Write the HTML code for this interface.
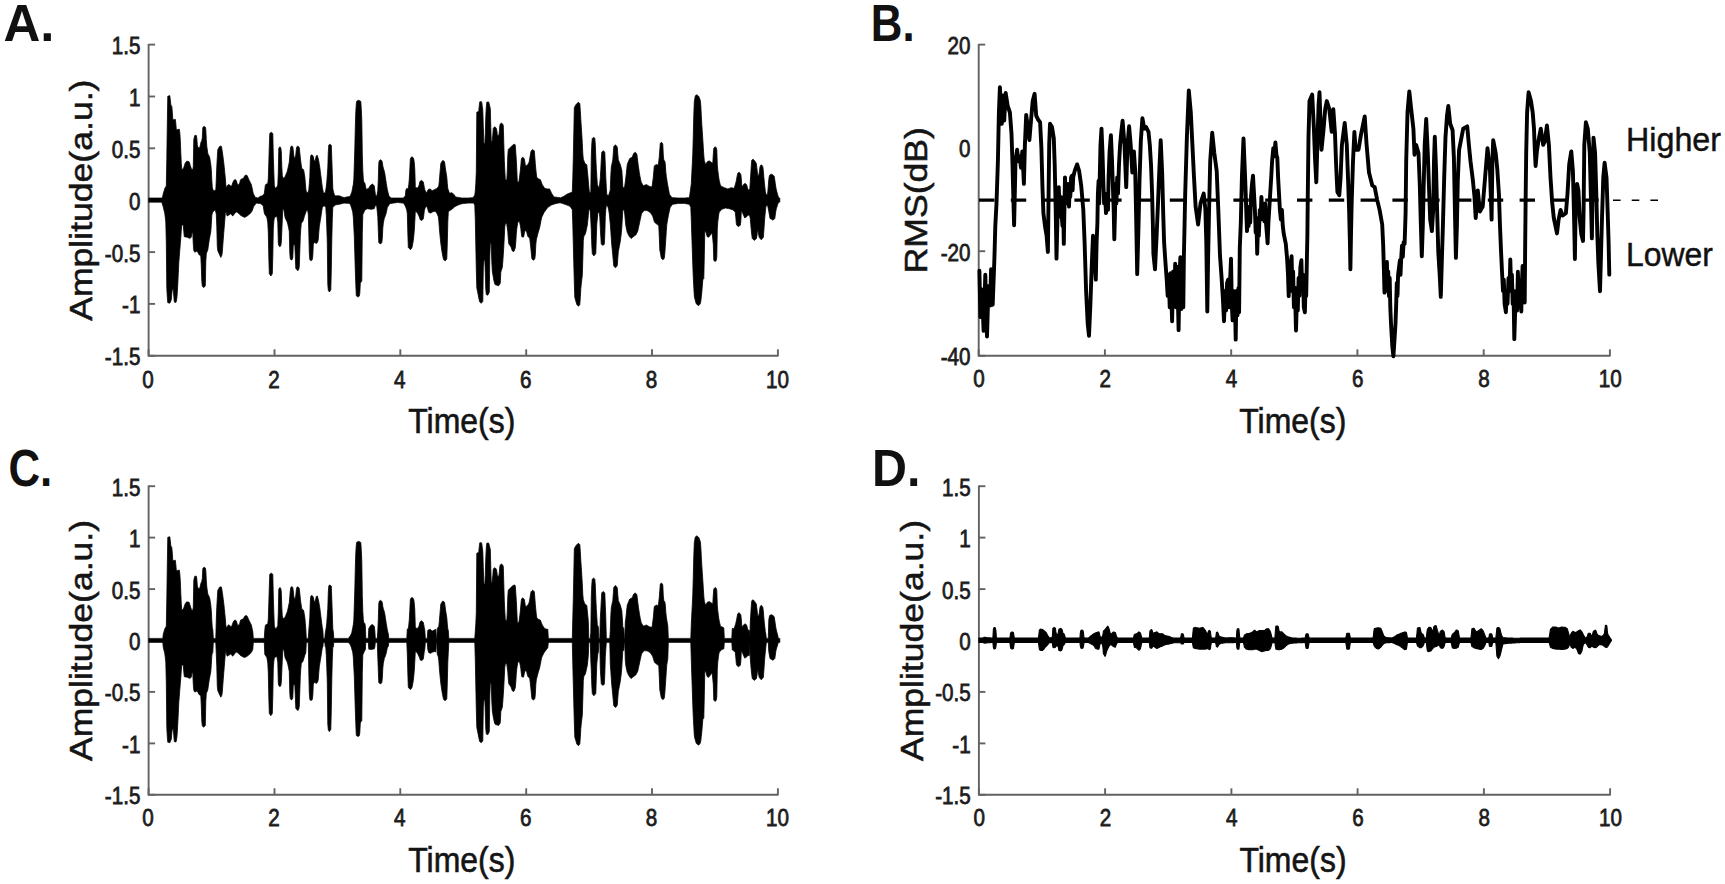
<!DOCTYPE html>
<html lang="en"><head><meta charset="utf-8"><title>Figure</title>
<style>html,body{margin:0;padding:0;background:#fff;}body{width:1725px;height:884px;overflow:hidden;}svg{display:block;}</style>
</head><body>
<svg width="1725" height="884" viewBox="0 0 1725 884">
<rect width="1725" height="884" fill="#ffffff"/>
<g stroke="#626262" stroke-width="1.9" fill="none" stroke-linecap="butt">
<path d="M148.6,44.0 V355.8 H778.5"/>
<path d="M148.6,355.8 v-6.5"/>
<path d="M274.5,355.8 v-6.5"/>
<path d="M400.3,355.8 v-6.5"/>
<path d="M526.2,355.8 v-6.5"/>
<path d="M652.0,355.8 v-6.5"/>
<path d="M777.9,355.8 v-6.5"/>
<path d="M148.6,44.6 h6.5"/>
<path d="M148.6,96.5 h6.5"/>
<path d="M148.6,148.3 h6.5"/>
<path d="M148.6,200.2 h6.5"/>
<path d="M148.6,252.1 h6.5"/>
<path d="M148.6,303.9 h6.5"/>
<path d="M148.6,355.8 h6.5"/>
</g>
<g font-family='"Liberation Sans", Arial, Helvetica, sans-serif' font-size="21.5" fill="#1c1c1c" stroke="#1c1c1c" stroke-width="0.7">
<text transform="translate(148.1,387.9) scale(0.96,1.1)" text-anchor="middle">0</text>
<text transform="translate(274.0,387.9) scale(0.96,1.1)" text-anchor="middle">2</text>
<text transform="translate(399.8,387.9) scale(0.96,1.1)" text-anchor="middle">4</text>
<text transform="translate(525.7,387.9) scale(0.96,1.1)" text-anchor="middle">6</text>
<text transform="translate(651.5,387.9) scale(0.96,1.1)" text-anchor="middle">8</text>
<text transform="translate(777.4,387.9) scale(0.96,1.1)" text-anchor="middle">10</text>
<text transform="translate(140.4,54.0) scale(0.96,1.1)" text-anchor="end">1.5</text>
<text transform="translate(140.4,105.9) scale(0.96,1.1)" text-anchor="end">1</text>
<text transform="translate(140.4,157.7) scale(0.96,1.1)" text-anchor="end">0.5</text>
<text transform="translate(140.4,209.6) scale(0.96,1.1)" text-anchor="end">0</text>
<text transform="translate(140.4,261.5) scale(0.96,1.1)" text-anchor="end">-0.5</text>
<text transform="translate(140.4,313.3) scale(0.96,1.1)" text-anchor="end">-1</text>
<text transform="translate(140.4,365.2) scale(0.96,1.1)" text-anchor="end">-1.5</text>
</g>
<text transform="translate(461.8,432.7) scale(1,1.12)" font-family='"Liberation Sans", Arial, Helvetica, sans-serif' font-size="32" fill="#141414" stroke="#141414" stroke-width="0.55" text-anchor="middle">Time(s)</text>
<text transform="translate(92.3,200.2) rotate(-90) scale(1.112,0.97)" font-family='"Liberation Sans", Arial, Helvetica, sans-serif' font-size="32" fill="#141414" stroke="#141414" stroke-width="0.55" text-anchor="middle">Amplitude(a.u.)</text>
<text transform="translate(3.5,40.6) scale(1.0,1)" font-family='"Liberation Sans", Arial, Helvetica, sans-serif' font-weight="bold" font-size="51" fill="#111">A.</text>
<g stroke="#626262" stroke-width="1.9" fill="none" stroke-linecap="butt">
<path d="M978.7,44.0 V355.8 H1610.5"/>
<path d="M978.7,355.8 v-6.5"/>
<path d="M1104.9,355.8 v-6.5"/>
<path d="M1231.2,355.8 v-6.5"/>
<path d="M1357.4,355.8 v-6.5"/>
<path d="M1483.7,355.8 v-6.5"/>
<path d="M1609.9,355.8 v-6.5"/>
<path d="M978.7,44.6 h6.5"/>
<path d="M978.7,251.2 h6.5"/>
<path d="M978.7,355.8 h6.5"/>
</g>
<g font-family='"Liberation Sans", Arial, Helvetica, sans-serif' font-size="21.5" fill="#1c1c1c" stroke="#1c1c1c" stroke-width="0.7">
<text transform="translate(979.0,386.7) scale(0.96,1.1)" text-anchor="middle">0</text>
<text transform="translate(1105.2,386.7) scale(0.96,1.1)" text-anchor="middle">2</text>
<text transform="translate(1231.5,386.7) scale(0.96,1.1)" text-anchor="middle">4</text>
<text transform="translate(1357.7,386.7) scale(0.96,1.1)" text-anchor="middle">6</text>
<text transform="translate(1484.0,386.7) scale(0.96,1.1)" text-anchor="middle">8</text>
<text transform="translate(1610.2,386.7) scale(0.96,1.1)" text-anchor="middle">10</text>
<text transform="translate(970.5,54.0) scale(0.96,1.1)" text-anchor="end">20</text>
<text transform="translate(970.5,157.3) scale(0.96,1.1)" text-anchor="end">0</text>
<text transform="translate(970.5,260.6) scale(0.96,1.1)" text-anchor="end">-20</text>
<text transform="translate(970.5,365.2) scale(0.96,1.1)" text-anchor="end">-40</text>
</g>
<text transform="translate(1292.8,432.7) scale(1,1.12)" font-family='"Liberation Sans", Arial, Helvetica, sans-serif' font-size="32" fill="#141414" stroke="#141414" stroke-width="0.55" text-anchor="middle">Time(s)</text>
<text transform="translate(927.3,200.2) rotate(-90) scale(1.112,0.97)" font-family='"Liberation Sans", Arial, Helvetica, sans-serif' font-size="32" fill="#141414" stroke="#141414" stroke-width="0.55" text-anchor="middle">RMS(dB)</text>
<text transform="translate(870.8,40.6) scale(0.86,1)" font-family='"Liberation Sans", Arial, Helvetica, sans-serif' font-weight="bold" font-size="51" fill="#111">B.</text>
<g stroke="#626262" stroke-width="1.9" fill="none" stroke-linecap="butt">
<path d="M148.6,485.6 V794.8 H778.5"/>
<path d="M148.6,794.8 v-6.5"/>
<path d="M274.5,794.8 v-6.5"/>
<path d="M400.3,794.8 v-6.5"/>
<path d="M526.2,794.8 v-6.5"/>
<path d="M652.0,794.8 v-6.5"/>
<path d="M777.9,794.8 v-6.5"/>
<path d="M148.6,486.2 h6.5"/>
<path d="M148.6,537.6 h6.5"/>
<path d="M148.6,589.1 h6.5"/>
<path d="M148.6,640.5 h6.5"/>
<path d="M148.6,691.9 h6.5"/>
<path d="M148.6,743.4 h6.5"/>
<path d="M148.6,794.8 h6.5"/>
</g>
<g font-family='"Liberation Sans", Arial, Helvetica, sans-serif' font-size="21.5" fill="#1c1c1c" stroke="#1c1c1c" stroke-width="0.7">
<text transform="translate(148.1,825.8) scale(0.96,1.1)" text-anchor="middle">0</text>
<text transform="translate(274.0,825.8) scale(0.96,1.1)" text-anchor="middle">2</text>
<text transform="translate(399.8,825.8) scale(0.96,1.1)" text-anchor="middle">4</text>
<text transform="translate(525.7,825.8) scale(0.96,1.1)" text-anchor="middle">6</text>
<text transform="translate(651.5,825.8) scale(0.96,1.1)" text-anchor="middle">8</text>
<text transform="translate(777.4,825.8) scale(0.96,1.1)" text-anchor="middle">10</text>
<text transform="translate(140.4,495.6) scale(0.96,1.1)" text-anchor="end">1.5</text>
<text transform="translate(140.4,547.0) scale(0.96,1.1)" text-anchor="end">1</text>
<text transform="translate(140.4,598.5) scale(0.96,1.1)" text-anchor="end">0.5</text>
<text transform="translate(140.4,649.9) scale(0.96,1.1)" text-anchor="end">0</text>
<text transform="translate(140.4,701.3) scale(0.96,1.1)" text-anchor="end">-0.5</text>
<text transform="translate(140.4,752.8) scale(0.96,1.1)" text-anchor="end">-1</text>
<text transform="translate(140.4,804.2) scale(0.96,1.1)" text-anchor="end">-1.5</text>
</g>
<text transform="translate(461.8,871.7) scale(1,1.12)" font-family='"Liberation Sans", Arial, Helvetica, sans-serif' font-size="32" fill="#141414" stroke="#141414" stroke-width="0.55" text-anchor="middle">Time(s)</text>
<text transform="translate(92.3,640.5) rotate(-90) scale(1.112,0.97)" font-family='"Liberation Sans", Arial, Helvetica, sans-serif' font-size="32" fill="#141414" stroke="#141414" stroke-width="0.55" text-anchor="middle">Amplitude(a.u.)</text>
<text transform="translate(8.4,485.8) scale(0.86,1)" font-family='"Liberation Sans", Arial, Helvetica, sans-serif' font-weight="bold" font-size="51" fill="#111">C.</text>
<g stroke="#626262" stroke-width="1.9" fill="none" stroke-linecap="butt">
<path d="M978.9,485.6 V794.8 H1610.7"/>
<path d="M978.9,794.8 v-6.5"/>
<path d="M1105.1,794.8 v-6.5"/>
<path d="M1231.4,794.8 v-6.5"/>
<path d="M1357.6,794.8 v-6.5"/>
<path d="M1483.9,794.8 v-6.5"/>
<path d="M1610.1,794.8 v-6.5"/>
<path d="M978.9,486.2 h6.5"/>
<path d="M978.9,537.6 h6.5"/>
<path d="M978.9,589.1 h6.5"/>
<path d="M978.9,640.5 h6.5"/>
<path d="M978.9,691.9 h6.5"/>
<path d="M978.9,743.4 h6.5"/>
<path d="M978.9,794.8 h6.5"/>
</g>
<g font-family='"Liberation Sans", Arial, Helvetica, sans-serif' font-size="21.5" fill="#1c1c1c" stroke="#1c1c1c" stroke-width="0.7">
<text transform="translate(979.2,826.3) scale(0.96,1.1)" text-anchor="middle">0</text>
<text transform="translate(1105.4,826.3) scale(0.96,1.1)" text-anchor="middle">2</text>
<text transform="translate(1231.7,826.3) scale(0.96,1.1)" text-anchor="middle">4</text>
<text transform="translate(1357.9,826.3) scale(0.96,1.1)" text-anchor="middle">6</text>
<text transform="translate(1484.2,826.3) scale(0.96,1.1)" text-anchor="middle">8</text>
<text transform="translate(1610.4,826.3) scale(0.96,1.1)" text-anchor="middle">10</text>
<text transform="translate(970.7,495.6) scale(0.96,1.1)" text-anchor="end">1.5</text>
<text transform="translate(970.7,547.0) scale(0.96,1.1)" text-anchor="end">1</text>
<text transform="translate(970.7,598.5) scale(0.96,1.1)" text-anchor="end">0.5</text>
<text transform="translate(970.7,649.9) scale(0.96,1.1)" text-anchor="end">0</text>
<text transform="translate(970.7,701.3) scale(0.96,1.1)" text-anchor="end">-0.5</text>
<text transform="translate(970.7,752.8) scale(0.96,1.1)" text-anchor="end">-1</text>
<text transform="translate(970.7,804.2) scale(0.96,1.1)" text-anchor="end">-1.5</text>
</g>
<text transform="translate(1293.0,871.7) scale(1,1.12)" font-family='"Liberation Sans", Arial, Helvetica, sans-serif' font-size="32" fill="#141414" stroke="#141414" stroke-width="0.55" text-anchor="middle">Time(s)</text>
<text transform="translate(922.7,640.5) rotate(-90) scale(1.112,0.97)" font-family='"Liberation Sans", Arial, Helvetica, sans-serif' font-size="32" fill="#141414" stroke="#141414" stroke-width="0.55" text-anchor="middle">Amplitude(a.u.)</text>
<text transform="translate(872.0,485.8) scale(0.95,1)" font-family='"Liberation Sans", Arial, Helvetica, sans-serif' font-weight="bold" font-size="51" fill="#111">D.</text>
<polygon points="148.8,198.0 149.3,198.0 149.8,198.0 150.3,198.0 150.8,198.0 151.3,198.0 151.8,198.0 152.3,198.0 152.8,198.0 153.3,198.0 153.8,198.0 154.3,198.0 154.8,198.0 155.3,198.0 155.8,198.0 156.3,198.0 156.8,198.0 157.3,198.0 157.8,198.0 158.3,198.0 158.8,198.0 159.3,198.0 159.8,198.0 160.3,198.0 160.8,198.0 161.3,198.0 161.8,198.0 162.3,198.0 162.8,195.7 163.3,193.6 163.8,191.9 164.3,190.2 164.8,188.5 165.3,187.6 165.8,186.7 166.3,185.9 166.8,159.4 167.3,124.1 167.8,96.2 168.3,96.0 168.8,95.9 169.3,95.8 169.8,95.6 170.3,99.7 170.8,104.5 171.3,105.6 171.8,106.4 172.3,112.1 172.8,119.8 173.3,119.7 173.8,119.6 174.3,119.5 174.8,119.4 175.3,119.3 175.8,123.4 176.3,129.4 176.8,129.7 177.3,129.6 177.8,129.5 178.3,129.4 178.8,129.3 179.3,129.2 179.8,132.8 180.3,140.3 180.8,152.6 181.3,163.6 181.8,169.5 182.3,169.2 182.8,168.9 183.3,168.5 183.8,167.5 184.3,165.9 184.8,164.2 185.3,163.0 185.8,162.3 186.3,161.6 186.8,161.2 187.3,161.3 187.8,161.3 188.3,161.4 188.8,161.5 189.3,162.1 189.8,163.8 190.3,165.6 190.8,167.1 191.3,168.6 191.8,169.6 192.3,169.6 192.8,169.6 193.3,166.6 193.8,139.5 194.3,137.3 194.8,135.4 195.3,135.4 195.8,135.4 196.3,135.4 196.8,138.0 197.3,144.8 197.8,147.3 198.3,147.5 198.8,147.6 199.3,147.7 199.8,147.5 200.3,145.2 200.8,143.0 201.3,141.6 201.8,140.6 202.3,137.8 202.8,127.9 203.3,126.9 203.8,126.5 204.3,126.5 204.8,126.8 205.3,127.1 205.8,129.5 206.3,139.5 206.8,146.4 207.3,149.9 207.8,153.4 208.3,154.4 208.8,155.4 209.3,156.4 209.8,158.0 210.3,161.4 210.8,164.7 211.3,169.9 211.8,179.9 212.3,187.5 212.8,189.0 213.3,190.5 213.8,190.7 214.3,190.5 214.8,190.4 215.3,190.3 215.8,190.2 216.3,179.6 216.8,166.7 217.3,157.4 217.8,149.6 218.3,148.7 218.8,147.8 219.3,146.8 219.8,146.2 220.3,146.2 220.8,146.2 221.3,146.2 221.8,148.3 222.3,151.8 222.8,155.2 223.3,159.2 223.8,163.2 224.3,167.9 224.8,172.9 225.3,178.1 225.8,184.6 226.3,187.9 226.8,186.9 227.3,186.0 227.8,185.1 228.3,184.8 228.8,184.4 229.3,184.7 229.8,185.3 230.3,185.8 230.8,186.1 231.3,186.3 231.8,185.5 232.3,184.1 232.8,182.8 233.3,181.5 233.8,180.6 234.3,180.1 234.8,179.7 235.3,179.5 235.8,180.1 236.3,180.7 236.8,182.2 237.3,183.9 237.8,185.1 238.3,184.7 238.8,184.4 239.3,184.1 239.8,182.7 240.3,180.5 240.8,179.4 241.3,179.2 241.8,179.0 242.3,178.8 242.8,178.5 243.3,178.3 243.8,177.4 244.3,176.6 244.8,175.8 245.3,175.2 245.8,175.2 246.3,175.2 246.8,175.2 247.3,175.9 247.8,177.1 248.3,178.3 248.8,179.4 249.3,180.5 249.8,181.5 250.3,182.5 250.8,183.5 251.3,184.5 251.8,186.7 252.3,189.0 252.8,191.4 253.3,193.5 253.8,194.5 254.3,195.6 254.8,196.6 255.3,197.3 255.8,197.4 256.3,197.5 256.8,197.7 257.3,197.8 257.8,197.9 258.3,197.9 258.8,197.5 259.3,197.0 259.8,196.6 260.3,196.3 260.8,196.2 261.3,196.1 261.8,195.9 262.3,195.8 262.8,195.4 263.3,194.7 263.8,194.1 264.3,193.4 264.8,189.8 265.3,185.4 265.8,184.4 266.3,184.1 266.8,183.9 267.3,183.7 267.8,183.5 268.3,178.3 268.8,162.8 269.3,146.1 269.8,133.4 270.3,133.0 270.8,132.6 271.3,132.3 271.8,132.7 272.3,133.1 272.8,133.5 273.3,156.5 273.8,171.7 274.3,185.4 274.8,187.3 275.3,187.7 275.8,188.0 276.3,188.1 276.8,187.1 277.3,186.1 277.8,185.1 278.3,172.3 278.8,148.3 279.3,147.6 279.8,146.8 280.3,147.1 280.8,147.9 281.3,151.5 281.8,166.5 282.3,175.5 282.8,177.3 283.3,178.2 283.8,177.8 284.3,177.5 284.8,177.2 285.3,176.2 285.8,174.9 286.3,173.7 286.8,172.4 287.3,171.2 287.8,169.1 288.3,166.8 288.8,164.4 289.3,162.0 289.8,156.0 290.3,150.0 290.8,146.9 291.3,146.3 291.8,145.8 292.3,146.4 292.8,147.0 293.3,150.2 293.8,155.5 294.3,157.8 294.8,157.8 295.3,157.8 295.8,154.7 296.3,149.4 296.8,146.9 297.3,146.4 297.8,146.0 298.3,146.4 298.8,146.9 299.3,147.8 299.8,152.8 300.3,157.8 300.8,161.8 301.3,165.4 301.8,168.4 302.3,168.8 302.8,169.1 303.3,169.4 303.8,170.8 304.3,173.8 304.8,176.8 305.3,182.6 305.8,188.6 306.3,192.1 306.8,192.2 307.3,192.3 307.8,192.4 308.3,192.6 308.8,189.8 309.3,183.6 309.8,177.3 310.3,160.7 310.8,155.6 311.3,155.1 311.8,154.8 312.3,155.2 312.8,155.6 313.3,156.5 313.8,159.1 314.3,160.9 314.8,160.9 315.3,160.9 315.8,157.8 316.3,155.8 316.8,155.6 317.3,155.4 317.8,157.1 318.3,158.9 318.8,161.3 319.3,164.3 319.8,167.4 320.3,171.4 320.8,175.4 321.3,179.4 321.8,183.4 322.3,187.2 322.8,189.7 323.3,192.3 323.8,193.2 324.3,193.0 324.8,192.8 325.3,192.7 325.8,189.8 326.3,186.6 326.8,181.9 327.3,174.9 327.8,168.0 328.3,151.7 328.8,145.0 329.3,144.5 329.8,144.2 330.3,144.6 330.8,144.9 331.3,145.3 331.8,158.8 332.3,173.6 332.8,188.6 333.3,191.1 333.8,192.8 334.3,194.4 334.8,195.8 335.3,195.8 335.8,195.8 336.3,195.8 336.8,195.8 337.3,195.8 337.8,195.8 338.3,195.8 338.8,195.8 339.3,195.8 339.8,196.0 340.3,196.2 340.8,196.4 341.3,196.6 341.8,196.8 342.3,197.0 342.8,197.2 343.3,197.3 343.8,197.5 344.3,197.6 344.8,197.4 345.3,197.3 345.8,197.2 346.3,197.1 346.8,197.0 347.3,196.9 347.8,196.8 348.3,196.7 348.8,196.6 349.3,196.5 349.8,196.4 350.3,195.7 350.8,194.5 351.3,193.3 351.8,192.2 352.3,189.7 352.8,187.0 353.3,184.4 353.8,180.0 354.3,165.0 354.8,149.2 355.3,127.7 355.8,111.7 356.3,103.9 356.8,101.1 357.3,100.8 357.8,100.6 358.3,100.4 358.8,100.3 359.3,100.5 359.8,100.8 360.3,101.1 360.8,101.4 361.3,109.4 361.8,120.6 362.3,154.8 362.8,170.7 363.3,179.1 363.8,181.9 364.3,182.5 364.8,183.1 365.3,185.2 365.8,187.7 366.3,189.5 366.8,189.2 367.3,189.0 367.8,188.7 368.3,188.5 368.8,188.0 369.3,187.2 369.8,186.4 370.3,185.6 370.8,185.0 371.3,184.7 371.8,184.3 372.3,184.0 372.8,184.3 373.3,184.8 373.8,185.3 374.3,186.1 374.8,190.1 375.3,194.1 375.8,195.9 376.3,196.1 376.8,196.1 377.3,193.3 377.8,190.6 378.3,179.3 378.8,162.9 379.3,160.6 379.8,160.2 380.3,159.8 380.8,159.9 381.3,160.3 381.8,160.7 382.3,162.3 382.8,165.9 383.3,168.1 383.8,169.7 384.3,171.2 384.8,173.5 385.3,176.9 385.8,180.2 386.3,183.4 386.8,186.4 387.3,189.4 387.8,191.5 388.3,193.6 388.8,195.7 389.3,196.2 389.8,196.7 390.3,197.2 390.8,197.7 391.3,198.0 391.8,198.0 392.3,198.0 392.8,198.0 393.3,198.0 393.8,198.0 394.3,198.0 394.8,198.0 395.3,198.0 395.8,198.0 396.3,198.0 396.8,198.0 397.3,198.0 397.8,198.0 398.3,198.0 398.8,198.0 399.3,198.0 399.8,198.0 400.3,198.0 400.8,198.0 401.3,198.0 401.8,198.0 402.3,198.0 402.8,198.0 403.3,198.0 403.8,197.6 404.3,197.0 404.8,196.4 405.3,195.8 405.8,190.9 406.3,188.8 406.8,188.7 407.3,188.6 407.8,188.4 408.3,188.3 408.8,184.6 409.3,179.0 409.8,170.0 410.3,159.3 410.8,157.9 411.3,157.3 411.8,156.7 412.3,156.9 412.8,157.5 413.3,158.0 413.8,159.2 414.3,162.9 414.8,169.6 415.3,186.7 415.8,187.4 416.3,187.7 416.8,188.0 417.3,188.1 417.8,187.5 418.3,186.8 418.8,186.1 419.3,184.5 419.8,182.0 420.3,181.1 420.8,180.8 421.3,180.4 421.8,180.5 422.3,181.0 422.8,181.5 423.3,182.0 423.8,184.5 424.3,187.5 424.8,189.8 425.3,190.8 425.8,191.8 426.3,192.8 426.8,192.6 427.3,191.4 427.8,190.3 428.3,189.5 428.8,189.3 429.3,189.2 429.8,189.0 430.3,189.0 430.8,189.5 431.3,190.0 431.8,190.5 432.3,190.7 432.8,190.4 433.3,190.2 433.8,189.9 434.3,189.7 434.8,189.4 435.3,189.2 435.8,188.9 436.3,188.7 436.8,188.4 437.3,188.0 437.8,187.3 438.3,186.7 438.8,186.0 439.3,181.3 439.8,174.9 440.3,169.2 440.8,163.6 441.3,162.6 441.8,161.8 442.3,160.9 442.8,160.4 443.3,160.7 443.8,161.0 444.3,161.4 444.8,163.6 445.3,167.6 445.8,171.1 446.3,174.1 446.8,177.2 447.3,183.6 447.8,188.7 448.3,190.0 448.8,191.3 449.3,192.6 449.8,193.2 450.3,193.1 450.8,192.9 451.3,192.8 451.8,192.7 452.3,192.9 452.8,193.4 453.3,193.9 453.8,194.4 454.3,195.1 454.8,195.7 455.3,196.4 455.8,197.0 456.3,197.1 456.8,197.2 457.3,197.2 457.8,197.3 458.3,197.4 458.8,197.5 459.3,197.6 459.8,197.6 460.3,197.7 460.8,197.8 461.3,197.9 461.8,198.0 462.3,198.0 462.8,198.0 463.3,198.0 463.8,198.0 464.3,198.0 464.8,198.0 465.3,198.0 465.8,198.0 466.3,198.0 466.8,198.0 467.3,198.0 467.8,198.0 468.3,198.0 468.8,197.9 469.3,197.9 469.8,197.9 470.3,197.8 470.8,197.8 471.3,197.8 471.8,197.7 472.3,197.7 472.8,197.6 473.3,197.4 473.8,196.5 474.3,195.7 474.8,194.9 475.3,190.7 475.8,183.7 476.3,172.0 476.8,112.3 477.3,112.0 477.8,111.7 478.3,111.4 478.8,110.7 479.3,105.4 479.8,101.8 480.3,101.7 480.8,101.6 481.3,101.5 481.8,102.8 482.3,106.7 482.8,110.6 483.3,126.5 483.8,142.4 484.3,143.4 484.8,144.4 485.3,133.8 485.8,116.6 486.3,107.3 486.8,102.2 487.3,102.1 487.8,102.0 488.3,101.9 488.8,102.2 489.3,104.3 489.8,106.4 490.3,108.5 490.8,127.5 491.3,143.2 491.8,141.7 492.3,140.2 492.8,135.0 493.3,128.2 493.8,127.6 494.3,127.2 494.8,126.8 495.3,127.1 495.8,127.7 496.3,128.3 496.8,130.5 497.3,134.5 497.8,135.4 498.3,135.4 498.8,135.4 499.3,132.1 499.8,125.6 500.3,123.9 500.8,123.5 501.3,123.1 501.8,123.3 502.3,123.8 502.8,124.3 503.3,125.9 503.8,143.3 504.3,160.3 504.8,170.3 505.3,179.6 505.8,179.8 506.3,179.9 506.8,180.1 507.3,171.1 507.8,155.8 508.3,149.4 508.8,148.9 509.3,148.4 509.8,147.9 510.3,147.4 510.8,146.9 511.3,146.4 511.8,145.9 512.3,145.4 512.8,144.9 513.3,144.6 513.8,144.5 514.3,144.4 514.8,144.2 515.3,145.4 515.8,152.6 516.3,159.9 516.8,169.9 517.3,181.4 517.8,182.1 518.3,182.1 518.8,182.1 519.3,179.1 519.8,175.0 520.3,170.8 520.8,165.5 521.3,159.7 521.8,157.9 522.3,157.6 522.8,157.3 523.3,157.6 523.8,158.3 524.3,158.9 524.8,161.7 525.3,165.1 525.8,165.8 526.3,165.6 526.8,165.4 527.3,165.2 527.8,164.4 528.3,163.6 528.8,162.7 529.3,161.3 529.8,158.2 530.3,155.2 530.8,152.2 531.3,150.7 531.8,150.2 532.3,149.8 532.8,149.6 533.3,150.0 533.8,150.5 534.3,150.9 534.8,156.8 535.3,163.7 535.8,169.0 536.3,174.0 536.8,177.3 537.3,177.8 537.8,178.3 538.3,178.8 538.8,179.1 539.3,179.2 539.8,179.4 540.3,179.6 540.8,180.8 541.3,182.1 541.8,183.5 542.3,184.7 542.8,185.4 543.3,186.2 543.8,186.9 544.3,187.7 544.8,188.3 545.3,188.4 545.8,188.6 546.3,188.7 546.8,188.8 547.3,188.9 547.8,188.9 548.3,188.9 548.8,188.9 549.3,188.9 549.8,189.2 550.3,190.4 550.8,191.5 551.3,192.7 551.8,193.6 552.3,194.4 552.8,195.1 553.3,195.9 553.8,196.6 554.3,197.0 554.8,197.1 555.3,197.1 555.8,197.2 556.3,197.2 556.8,197.3 557.3,197.3 557.8,197.4 558.3,197.4 558.8,197.5 559.3,197.5 559.8,197.6 560.3,197.9 560.8,197.6 561.3,197.4 561.8,197.2 562.3,197.0 562.8,196.8 563.3,196.6 563.8,196.3 564.3,196.0 564.8,195.7 565.3,195.3 565.8,195.0 566.3,194.7 566.8,194.3 567.3,194.0 567.8,193.8 568.3,193.6 568.8,193.4 569.3,193.2 569.8,193.0 570.3,192.8 570.8,192.6 571.3,192.4 571.8,192.3 572.3,192.1 572.8,177.7 573.3,157.8 573.8,133.7 574.3,107.9 574.8,106.6 575.3,105.8 575.8,104.9 576.3,104.2 576.8,103.7 577.3,103.2 577.8,102.8 578.3,102.3 578.8,102.6 579.3,103.1 579.8,103.6 580.3,110.5 580.8,119.3 581.3,127.1 581.8,134.6 582.3,143.2 582.8,153.8 583.3,159.2 583.8,160.5 584.3,161.8 584.8,163.2 585.3,163.7 585.8,164.0 586.3,164.3 586.8,165.1 587.3,170.2 587.8,175.2 588.3,180.8 588.8,186.8 589.3,192.0 589.8,192.2 590.3,192.4 590.8,192.6 591.3,156.2 591.8,144.0 592.3,138.4 592.8,137.9 593.3,137.5 593.8,137.4 594.3,137.9 594.8,138.3 595.3,144.3 595.8,157.3 596.3,168.2 596.8,176.2 597.3,184.2 597.8,185.5 598.3,186.5 598.8,187.5 599.3,187.3 599.8,182.8 600.3,178.3 600.8,169.7 601.3,159.8 601.8,152.1 602.3,151.6 602.8,151.2 603.3,150.7 603.8,151.2 604.3,151.7 604.8,152.5 605.3,165.0 605.8,177.5 606.3,187.5 606.8,194.6 607.3,194.9 607.8,195.3 608.3,195.6 608.8,194.8 609.3,193.2 609.8,191.5 610.3,189.8 610.8,175.5 611.3,167.0 611.8,164.7 612.3,162.3 612.8,160.0 613.3,153.2 613.8,146.5 614.3,146.0 614.8,145.4 615.3,144.8 615.8,145.2 616.3,145.7 616.8,146.2 617.3,147.5 617.8,154.1 618.3,159.9 618.8,161.0 619.3,162.2 619.8,163.4 620.3,164.5 620.8,166.4 621.3,168.3 621.8,170.3 622.3,177.3 622.8,186.5 623.3,187.4 623.8,187.8 624.3,188.2 624.8,185.6 625.3,181.9 625.8,178.1 626.3,173.5 626.8,168.5 627.3,164.3 627.8,163.1 628.3,161.8 628.8,160.6 629.3,159.3 629.8,158.4 630.3,158.1 630.8,157.9 631.3,157.6 631.8,157.4 632.3,156.8 632.8,155.6 633.3,154.3 633.8,153.3 634.3,152.9 634.8,152.6 635.3,152.2 635.8,152.8 636.3,153.4 636.8,154.0 637.3,157.6 637.8,161.8 638.3,165.8 638.8,169.1 639.3,172.5 639.8,175.5 640.3,178.0 640.8,180.5 641.3,182.4 641.8,183.2 642.3,184.0 642.8,184.9 643.3,185.7 643.8,185.6 644.3,185.4 644.8,185.2 645.3,185.0 645.8,184.8 646.3,184.6 646.8,184.8 647.3,185.1 647.8,185.4 648.3,185.7 648.8,186.0 649.3,186.3 649.8,186.5 650.3,186.6 650.8,186.7 651.3,186.9 651.8,187.0 652.3,185.1 652.8,181.1 653.3,177.2 653.8,171.5 654.3,165.9 654.8,165.5 655.3,165.2 655.8,164.8 656.3,164.5 656.8,164.6 657.3,164.8 657.8,165.0 658.3,165.1 658.8,160.9 659.3,156.6 659.8,149.8 660.3,143.3 660.8,142.8 661.3,142.3 661.8,142.6 662.3,143.1 662.8,144.4 663.3,155.1 663.8,160.0 664.3,160.6 664.8,161.2 665.3,164.2 665.8,171.6 666.3,176.5 666.8,179.5 667.3,182.6 667.8,185.6 668.3,188.2 668.8,190.9 669.3,193.5 669.8,194.9 670.3,195.5 670.8,196.1 671.3,196.8 671.8,197.4 672.3,197.6 672.8,197.7 673.3,197.7 673.8,197.7 674.3,197.8 674.8,197.8 675.3,197.8 675.8,197.8 676.3,197.9 676.8,197.9 677.3,197.9 677.8,198.0 678.3,198.0 678.8,198.0 679.3,198.0 679.8,198.0 680.3,198.0 680.8,198.0 681.3,198.0 681.8,198.0 682.3,198.0 682.8,198.0 683.3,198.0 683.8,198.0 684.3,198.0 684.8,198.0 685.3,197.9 685.8,197.9 686.3,197.8 686.8,197.8 687.3,197.8 687.8,197.7 688.3,197.7 688.8,197.7 689.3,197.6 689.8,194.7 690.3,191.2 690.8,187.7 691.3,183.6 691.8,173.6 692.3,163.6 692.8,153.6 693.3,134.9 693.8,114.9 694.3,101.4 694.8,98.7 695.3,95.9 695.8,95.3 696.3,95.1 696.8,94.8 697.3,95.1 697.8,95.5 698.3,95.9 698.8,96.5 699.3,97.8 699.8,99.1 700.3,100.5 700.8,105.6 701.3,115.5 701.8,124.4 702.3,131.9 702.8,139.5 703.3,147.5 703.8,155.5 704.3,160.5 704.8,162.1 705.3,163.8 705.8,164.2 706.3,163.4 706.8,162.6 707.3,161.7 707.8,161.4 708.3,161.2 708.8,161.1 709.3,160.9 709.8,161.3 710.3,161.6 710.8,161.9 711.3,162.3 711.8,162.7 712.3,163.0 712.8,162.9 713.3,154.3 713.8,148.3 714.3,147.7 714.8,147.1 715.3,146.7 715.8,147.3 716.3,147.9 716.8,150.0 717.3,164.8 717.8,170.4 718.3,174.2 718.8,178.1 719.3,180.9 719.8,182.9 720.3,185.0 720.8,185.9 721.3,186.2 721.8,186.4 722.3,186.7 722.8,186.9 723.3,187.2 723.8,187.4 724.3,187.7 724.8,187.9 725.3,188.0 725.8,188.2 726.3,188.4 726.8,188.5 727.3,188.7 727.8,188.9 728.3,188.8 728.8,188.6 729.3,188.4 729.8,188.2 730.3,188.0 730.8,187.8 731.3,187.7 731.8,187.8 732.3,187.9 732.8,188.0 733.3,188.1 733.8,188.2 734.3,187.8 734.8,186.2 735.3,184.5 735.8,182.9 736.3,180.7 736.8,177.9 737.3,175.2 737.8,173.2 738.3,172.8 738.8,172.4 739.3,172.3 739.8,173.0 740.3,173.6 740.8,174.3 741.3,178.7 741.8,185.9 742.3,186.4 742.8,185.6 743.3,184.9 743.8,184.3 744.3,183.9 744.8,183.6 745.3,183.5 745.8,183.9 746.3,184.3 746.8,185.3 747.3,187.3 747.8,189.3 748.3,189.7 748.8,189.8 749.3,190.0 749.8,188.9 750.3,181.4 750.8,173.6 751.3,165.2 751.8,160.1 752.3,159.7 752.8,159.3 753.3,159.3 753.8,159.9 754.3,160.5 754.8,161.1 755.3,161.8 755.8,162.6 756.3,163.4 756.8,167.4 757.3,171.6 757.8,175.8 758.3,175.3 758.8,174.8 759.3,172.4 759.8,168.1 760.3,165.7 760.8,165.3 761.3,164.8 761.8,165.1 762.3,165.9 762.8,166.7 763.3,170.5 763.8,176.7 764.3,182.1 764.8,186.6 765.3,191.2 765.8,193.6 766.3,194.2 766.8,194.9 767.3,195.5 767.8,192.1 768.3,185.9 768.8,179.6 769.3,176.3 769.8,175.1 770.3,174.5 770.8,174.4 771.3,174.3 771.8,174.3 772.3,174.6 772.8,175.0 773.3,175.4 773.8,175.7 774.3,176.7 774.8,180.2 775.3,183.6 775.8,187.1 776.3,189.6 776.8,191.5 777.3,193.4 777.8,195.2 778.3,196.6 778.8,197.6 779.3,198.1 779.8,198.1 779.8,202.1 779.3,202.1 778.8,202.1 778.3,203.0 777.8,204.1 777.3,205.7 776.8,207.2 776.3,208.8 775.8,211.2 775.3,214.8 774.8,218.4 774.3,218.9 773.8,219.4 773.3,219.9 772.8,220.1 772.3,219.8 771.8,219.4 771.3,219.1 770.8,218.9 770.3,218.8 769.8,217.4 769.3,214.3 768.8,211.4 768.3,208.9 767.8,206.4 767.3,205.1 766.8,205.5 766.3,205.9 765.8,207.1 765.3,212.1 764.8,217.2 764.3,223.9 763.8,231.5 763.3,237.4 762.8,238.0 762.3,238.6 761.8,239.2 761.3,239.8 760.8,239.3 760.3,238.7 759.8,238.2 759.3,237.6 758.8,235.6 758.3,232.1 757.8,228.7 757.3,232.7 756.8,236.7 756.3,238.8 755.8,239.2 755.3,239.6 754.8,240.0 754.3,240.4 753.8,240.0 753.3,239.5 752.8,239.1 752.3,238.6 751.8,235.0 751.3,230.6 750.8,224.7 750.3,218.7 749.8,215.9 749.3,215.6 748.8,215.2 748.3,215.1 747.8,215.6 747.3,216.1 746.8,216.6 746.3,217.0 745.8,217.3 745.3,217.7 744.8,218.0 744.3,217.0 743.8,215.8 743.3,214.7 742.8,213.5 742.3,212.2 741.8,211.0 741.3,211.7 740.8,221.7 740.3,225.2 739.8,225.6 739.3,226.1 738.8,226.5 738.3,226.6 737.8,226.1 737.3,225.7 736.8,225.2 736.3,223.5 735.8,217.3 735.3,212.3 734.8,211.8 734.3,211.3 733.8,210.8 733.3,210.3 732.8,209.9 732.3,209.7 731.8,209.6 731.3,209.4 730.8,209.2 730.3,209.1 729.8,208.9 729.3,208.7 728.8,208.6 728.3,208.6 727.8,208.5 727.3,208.4 726.8,208.3 726.3,208.2 725.8,208.1 725.3,208.1 724.8,208.3 724.3,208.5 723.8,208.6 723.3,208.8 722.8,209.0 722.3,209.1 721.8,209.3 721.3,209.8 720.8,210.4 720.3,211.0 719.8,211.5 719.3,212.1 718.8,213.9 718.3,217.8 717.8,221.6 717.3,229.3 716.8,257.0 716.3,260.3 715.8,260.9 715.3,261.5 714.8,261.2 714.3,260.8 713.8,260.4 713.3,244.5 712.8,239.3 712.3,234.8 711.8,232.7 711.3,233.6 710.8,234.4 710.3,235.1 709.8,235.8 709.3,236.5 708.8,237.1 708.3,237.2 707.8,237.0 707.3,236.8 706.8,235.4 706.3,233.0 705.8,232.1 705.3,231.7 704.8,231.3 704.3,255.7 703.8,278.6 703.3,279.1 702.8,279.9 702.3,286.1 701.8,292.2 701.3,296.8 700.8,301.3 700.3,303.6 699.8,304.3 699.3,305.0 698.8,305.6 698.3,305.4 697.8,305.1 697.3,304.7 696.8,304.3 696.3,303.9 695.8,302.3 695.3,300.5 694.8,298.6 694.3,296.0 693.8,286.9 693.3,277.9 692.8,265.1 692.3,250.2 691.8,235.2 691.3,220.1 690.8,207.3 690.3,206.3 689.8,205.2 689.3,204.3 688.8,204.2 688.3,204.2 687.8,204.1 687.3,204.0 686.8,203.9 686.3,203.8 685.8,203.7 685.3,203.6 684.8,203.5 684.3,203.5 683.8,203.5 683.3,203.5 682.8,203.5 682.3,203.5 681.8,203.5 681.3,203.5 680.8,203.5 680.3,203.5 679.8,203.5 679.3,203.5 678.8,203.5 678.3,203.5 677.8,203.5 677.3,203.6 676.8,203.7 676.3,203.8 675.8,203.9 675.3,203.9 674.8,204.0 674.3,204.1 673.8,204.2 673.3,204.2 672.8,204.3 672.3,204.7 671.8,205.3 671.3,206.0 670.8,206.6 670.3,207.2 669.8,208.9 669.3,211.2 668.8,213.5 668.3,215.8 667.8,218.7 667.3,221.6 666.8,224.5 666.3,231.5 665.8,239.0 665.3,246.4 664.8,253.6 664.3,258.1 663.8,258.8 663.3,259.5 662.8,259.8 662.3,259.3 661.8,258.8 661.3,258.0 660.8,255.3 660.3,252.6 659.8,249.9 659.3,237.0 658.8,226.0 658.3,225.5 657.8,225.0 657.3,224.5 656.8,224.1 656.3,223.7 655.8,223.3 655.3,223.0 654.8,222.6 654.3,221.6 653.8,219.9 653.3,218.2 652.8,216.6 652.3,215.6 651.8,214.8 651.3,214.1 650.8,213.3 650.3,212.6 649.8,212.2 649.3,211.9 648.8,211.6 648.3,211.3 647.8,211.0 647.3,210.7 646.8,210.6 646.3,210.6 645.8,210.6 645.3,210.6 644.8,210.6 644.3,210.6 643.8,210.8 643.3,211.4 642.8,212.0 642.3,212.7 641.8,213.3 641.3,214.6 640.8,216.9 640.3,219.2 639.8,221.6 639.3,223.9 638.8,226.2 638.3,228.5 637.8,230.9 637.3,232.0 636.8,233.0 636.3,234.0 635.8,234.9 635.3,235.3 634.8,235.6 634.3,236.0 633.8,236.4 633.3,236.8 632.8,237.2 632.3,237.6 631.8,238.0 631.3,238.5 630.8,238.1 630.3,237.6 629.8,237.0 629.3,236.4 628.8,235.6 628.3,234.6 627.8,233.6 627.3,232.6 626.8,230.4 626.3,227.9 625.8,225.4 625.3,220.4 624.8,214.7 624.3,210.5 623.8,210.3 623.3,210.1 622.8,210.5 622.3,218.9 621.8,227.4 621.3,233.3 620.8,237.4 620.3,241.3 619.8,243.9 619.3,246.5 618.8,249.2 618.3,251.8 617.8,258.1 617.3,265.0 616.8,266.4 616.3,266.9 615.8,267.4 615.3,267.7 614.8,267.2 614.3,266.6 613.8,266.0 613.3,260.9 612.8,255.3 612.3,250.3 611.8,245.2 611.3,238.6 610.8,231.0 610.3,224.0 609.8,219.0 609.3,214.0 608.8,210.7 608.3,208.2 607.8,206.2 607.3,206.0 606.8,205.8 606.3,205.6 605.8,209.4 605.3,216.5 604.8,234.7 604.3,244.3 603.8,244.7 603.3,245.1 602.8,245.3 602.3,244.9 601.8,244.5 601.3,244.2 600.8,236.7 600.3,228.3 599.8,217.6 599.3,212.4 598.8,212.4 598.3,212.4 597.8,213.8 597.3,218.9 596.8,223.9 596.3,238.0 595.8,253.5 595.3,254.2 594.8,254.8 594.3,255.4 593.8,255.9 593.3,255.2 592.8,254.5 592.3,253.8 591.8,244.9 591.3,230.6 590.8,220.0 590.3,211.8 589.8,209.0 589.3,209.5 588.8,210.6 588.3,215.6 587.8,220.6 587.3,225.2 586.8,227.5 586.3,229.9 585.8,232.2 585.3,233.9 584.8,234.8 584.3,235.7 583.8,236.6 583.3,240.7 582.8,259.3 582.3,275.4 581.8,279.6 581.3,283.7 580.8,288.8 580.3,297.6 579.8,304.6 579.3,305.3 578.8,305.9 578.3,306.2 577.8,305.7 577.3,305.1 576.8,304.5 576.3,302.7 575.8,301.0 575.3,299.2 574.8,297.5 574.3,282.6 573.8,263.5 573.3,244.2 572.8,224.3 572.3,209.7 571.8,209.0 571.3,208.2 570.8,207.5 570.3,206.7 569.8,206.2 569.3,206.0 568.8,205.8 568.3,205.6 567.8,205.4 567.3,205.2 566.8,205.0 566.3,204.8 565.8,204.7 565.3,204.5 564.8,204.3 564.3,204.1 563.8,204.0 563.3,203.8 562.8,203.6 562.3,203.5 561.8,203.3 561.3,203.2 560.8,203.0 560.3,202.8 559.8,202.8 559.3,202.9 558.8,203.0 558.3,203.1 557.8,203.2 557.3,203.3 556.8,203.4 556.3,203.5 555.8,203.6 555.3,203.7 554.8,203.9 554.3,204.1 553.8,204.2 553.3,204.4 552.8,204.6 552.3,204.7 551.8,204.9 551.3,205.1 550.8,205.5 550.3,205.8 549.8,206.1 549.3,206.5 548.8,206.8 548.3,207.1 547.8,207.5 547.3,208.1 546.8,208.8 546.3,209.5 545.8,210.1 545.3,210.8 544.8,211.5 544.3,212.1 543.8,213.0 543.3,214.0 542.8,215.0 542.3,216.0 541.8,217.0 541.3,219.0 540.8,221.6 540.3,224.3 539.8,226.9 539.3,228.8 538.8,230.4 538.3,232.1 537.8,233.8 537.3,235.8 536.8,237.8 536.3,239.8 535.8,244.9 535.3,254.9 534.8,258.8 534.3,259.4 533.8,260.0 533.3,260.2 532.8,259.8 532.3,259.4 531.8,258.2 531.3,252.9 530.8,247.9 530.3,243.4 529.8,238.8 529.3,238.0 528.8,237.4 528.3,236.8 527.8,236.3 527.3,234.5 526.8,232.2 526.3,230.5 525.8,230.7 525.3,230.9 524.8,231.1 524.3,233.6 523.8,236.1 523.3,237.2 522.8,237.1 522.3,236.9 521.8,236.7 521.3,233.1 520.8,228.4 520.3,225.4 519.8,222.9 519.3,221.2 518.8,221.6 518.3,222.0 517.8,222.3 517.3,225.2 516.8,228.7 516.3,233.7 515.8,241.8 515.3,247.7 514.8,249.2 514.3,250.7 513.8,251.6 513.3,251.4 512.8,251.2 512.3,250.9 511.8,249.4 511.3,247.8 510.8,246.8 510.3,246.1 509.8,245.3 509.3,244.6 508.8,243.8 508.3,239.0 507.8,231.8 507.3,228.0 506.8,224.5 506.3,222.7 505.8,223.5 505.3,224.2 504.8,226.7 504.3,236.6 503.8,246.6 503.3,254.5 502.8,261.6 502.3,267.5 501.8,269.0 501.3,270.6 500.8,272.1 500.3,282.9 499.8,284.1 499.3,284.9 498.8,285.6 498.3,285.7 497.8,285.6 497.3,285.4 496.8,285.2 496.3,285.1 495.8,284.9 495.3,284.7 494.8,284.1 494.3,282.1 493.8,280.1 493.3,277.2 492.8,274.2 492.3,271.1 491.8,261.2 491.3,245.4 490.8,242.7 490.3,243.2 489.8,256.1 489.3,292.1 488.8,293.2 488.3,294.2 487.8,295.2 487.3,295.0 486.8,294.8 486.3,294.6 485.8,289.5 485.3,273.2 484.8,258.9 484.3,260.0 483.8,261.2 483.3,267.0 482.8,301.5 482.3,302.0 481.8,302.6 481.3,303.2 480.8,302.9 480.3,302.5 479.8,302.1 479.3,300.4 478.8,297.9 478.3,295.4 477.8,292.8 477.3,290.3 476.8,287.8 476.3,269.7 475.8,244.8 475.3,219.7 474.8,205.6 474.3,204.4 473.8,203.1 473.3,203.1 472.8,203.1 472.3,203.1 471.8,203.1 471.3,203.1 470.8,203.1 470.3,203.1 469.8,203.1 469.3,203.1 468.8,203.1 468.3,203.1 467.8,203.1 467.3,203.2 466.8,203.2 466.3,203.3 465.8,203.3 465.3,203.4 464.8,203.4 464.3,203.5 463.8,203.5 463.3,203.6 462.8,203.6 462.3,203.7 461.8,203.8 461.3,204.0 460.8,204.1 460.3,204.3 459.8,204.5 459.3,204.6 458.8,204.8 458.3,205.0 457.8,205.2 457.3,205.4 456.8,205.7 456.3,205.9 455.8,206.2 455.3,206.4 454.8,206.7 454.3,207.0 453.8,207.5 453.3,208.0 452.8,208.5 452.3,209.0 451.8,209.4 451.3,209.7 450.8,209.9 450.3,210.2 449.8,210.4 449.3,210.9 448.8,211.5 448.3,212.1 447.8,222.1 447.3,243.1 446.8,258.8 446.3,259.7 445.8,260.2 445.3,260.8 444.8,260.7 444.3,260.3 443.8,259.9 443.3,258.5 442.8,256.0 442.3,253.5 441.8,250.4 441.3,246.9 440.8,243.3 440.3,238.4 439.8,233.4 439.3,227.4 438.8,220.5 438.3,216.7 437.8,215.5 437.3,214.2 436.8,213.3 436.3,212.6 435.8,212.0 435.3,211.3 434.8,211.3 434.3,211.4 433.8,211.6 433.3,211.7 432.8,211.8 432.3,212.1 431.8,212.4 431.3,212.7 430.8,213.0 430.3,213.0 429.8,212.8 429.3,212.6 428.8,212.5 428.3,211.1 427.8,209.1 427.3,207.4 426.8,207.0 426.3,206.6 425.8,206.4 425.3,207.7 424.8,208.9 424.3,210.8 423.8,215.2 423.3,218.8 422.8,219.4 422.3,220.0 421.8,220.5 421.3,220.3 420.8,220.1 420.3,219.9 419.8,218.4 419.3,216.9 418.8,215.7 418.3,214.7 417.8,213.7 417.3,212.7 416.8,212.2 416.3,211.9 415.8,211.5 415.3,211.4 414.8,221.4 414.3,230.2 413.8,235.9 413.3,240.6 412.8,243.3 412.3,246.0 411.8,248.1 411.3,248.7 410.8,249.2 410.3,249.7 409.8,249.1 409.3,248.5 408.8,248.0 408.3,247.4 407.8,232.0 407.3,213.8 406.8,210.1 406.3,208.7 405.8,207.4 405.3,206.1 404.8,205.3 404.3,204.4 403.8,203.6 403.3,203.1 402.8,203.0 402.3,203.0 401.8,202.9 401.3,202.9 400.8,202.8 400.3,202.8 399.8,202.7 399.3,202.7 398.8,202.6 398.3,202.6 397.8,202.5 397.3,202.5 396.8,202.6 396.3,202.7 395.8,202.7 395.3,202.8 394.8,202.9 394.3,203.0 393.8,203.1 393.3,203.1 392.8,203.2 392.3,203.3 391.8,203.4 391.3,203.5 390.8,203.6 390.3,203.6 389.8,203.7 389.3,204.5 388.8,205.2 388.3,206.0 387.8,206.7 387.3,207.6 386.8,210.1 386.3,212.6 385.8,214.4 385.3,215.8 384.8,217.1 384.3,218.4 383.8,220.7 383.3,223.2 382.8,228.3 382.3,238.3 381.8,242.6 381.3,243.2 380.8,243.8 380.3,244.0 379.8,243.5 379.3,243.0 378.8,242.5 378.3,230.5 377.8,216.8 377.3,211.7 376.8,206.7 376.3,205.8 375.8,205.3 375.3,205.6 374.8,207.1 374.3,208.6 373.8,208.8 373.3,208.9 372.8,209.0 372.3,209.1 371.8,209.2 371.3,209.3 370.8,209.3 370.3,209.2 369.8,209.1 369.3,209.0 368.8,208.9 368.3,208.9 367.8,208.8 367.3,208.8 366.8,209.0 366.3,209.3 365.8,209.5 365.3,209.8 364.8,210.2 364.3,211.4 363.8,212.5 363.3,213.6 362.8,214.7 362.3,232.4 361.8,280.9 361.3,281.7 360.8,282.4 360.3,283.2 359.8,293.3 359.3,296.1 358.8,296.5 358.3,296.9 357.8,296.8 357.3,296.5 356.8,296.2 356.3,295.8 355.8,284.2 355.3,270.4 354.8,253.2 354.3,236.4 353.8,226.8 353.3,217.3 352.8,212.5 352.3,210.6 351.8,208.7 351.3,207.0 350.8,205.7 350.3,204.5 349.8,203.5 349.3,203.4 348.8,203.4 348.3,203.4 347.8,203.3 347.3,203.3 346.8,203.3 346.3,203.3 345.8,203.2 345.3,203.2 344.8,203.2 344.3,203.1 343.8,203.2 343.3,203.3 342.8,203.4 342.3,203.5 341.8,203.7 341.3,203.8 340.8,203.9 340.3,204.0 339.8,204.2 339.3,204.3 338.8,204.4 338.3,204.5 337.8,204.6 337.3,204.6 336.8,204.7 336.3,204.8 335.8,204.9 335.3,205.0 334.8,205.5 334.3,205.9 333.8,206.4 333.3,206.8 332.8,207.3 332.3,218.8 331.8,239.7 331.3,269.8 330.8,289.8 330.3,290.6 329.8,291.4 329.3,292.0 328.8,291.1 328.3,290.3 327.8,284.6 327.3,243.1 326.8,227.0 326.3,214.9 325.8,207.3 325.3,206.8 324.8,206.3 324.3,205.8 323.8,205.9 323.3,206.4 322.8,206.9 322.3,207.4 321.8,210.7 321.3,214.1 320.8,217.4 320.3,220.4 319.8,223.5 319.3,226.5 318.8,232.2 318.3,239.0 317.8,241.6 317.3,242.5 316.8,243.3 316.3,243.4 315.8,243.1 315.3,242.9 314.8,242.6 314.3,242.4 313.8,243.2 313.3,244.5 312.8,255.7 312.3,259.5 311.8,260.1 311.3,260.7 310.8,260.7 310.3,260.1 309.8,259.5 309.3,252.9 308.8,232.1 308.3,214.7 307.8,210.9 307.3,210.4 306.8,210.0 306.3,211.0 305.8,212.4 305.3,213.7 304.8,215.1 304.3,216.7 303.8,218.4 303.3,220.1 302.8,221.4 302.3,222.0 301.8,222.7 301.3,223.4 300.8,228.5 300.3,236.4 299.8,251.0 299.3,266.6 298.8,269.2 298.3,270.0 297.8,270.8 297.3,270.3 296.8,269.7 296.3,269.1 295.8,268.5 295.3,255.9 294.8,244.8 294.3,244.8 293.8,244.8 293.3,244.8 292.8,257.6 292.3,259.2 291.8,259.9 291.3,260.1 290.8,259.5 290.3,258.9 289.8,253.6 289.3,231.5 288.8,228.8 288.3,226.5 287.8,224.2 287.3,222.2 286.8,221.2 286.3,220.2 285.8,219.2 285.3,218.2 284.8,216.3 284.3,212.0 283.8,209.7 283.3,209.2 282.8,209.1 282.3,219.9 281.8,231.1 281.3,242.5 280.8,245.5 280.3,246.4 279.8,246.8 279.3,246.1 278.8,245.4 278.3,243.0 277.8,222.1 277.3,219.0 276.8,216.2 276.3,216.4 275.8,216.7 275.3,216.9 274.8,217.2 274.3,217.9 273.8,221.6 273.3,228.2 272.8,256.1 272.3,273.7 271.8,274.6 271.3,275.4 270.8,276.0 270.3,275.2 269.8,274.4 269.3,273.7 268.8,256.9 268.3,232.6 267.8,222.8 267.3,219.8 266.8,217.3 266.3,216.5 265.8,215.8 265.3,215.0 264.8,214.3 264.3,213.0 263.8,209.7 263.3,206.5 262.8,205.3 262.3,205.0 261.8,204.6 261.3,204.2 260.8,203.8 260.3,203.7 259.8,203.6 259.3,203.5 258.8,203.5 258.3,203.4 257.8,203.3 257.3,203.2 256.8,203.2 256.3,203.1 255.8,203.8 255.3,204.4 254.8,205.0 254.3,205.6 253.8,206.3 253.3,207.6 252.8,209.0 252.3,210.3 251.8,211.4 251.3,212.1 250.8,212.8 250.3,213.4 249.8,213.9 249.3,214.3 248.8,214.7 248.3,215.1 247.8,215.5 247.3,215.9 246.8,216.3 246.3,216.5 245.8,216.8 245.3,217.0 244.8,217.3 244.3,217.3 243.8,217.1 243.3,216.8 242.8,216.6 242.3,216.3 241.8,216.1 241.3,215.8 240.8,215.6 240.3,215.1 239.8,214.6 239.3,214.1 238.8,213.6 238.3,213.1 237.8,212.7 237.3,212.4 236.8,212.1 236.3,211.9 235.8,212.4 235.3,212.9 234.8,213.4 234.3,214.0 233.8,214.7 233.3,215.3 232.8,216.0 232.3,215.7 231.8,215.0 231.3,214.3 230.8,213.7 230.3,214.0 229.8,214.4 229.3,214.7 228.8,215.0 228.3,215.4 227.8,215.7 227.3,216.0 226.8,215.0 226.3,212.9 225.8,210.8 225.3,213.6 224.8,219.9 224.3,226.1 223.8,232.3 223.3,238.6 222.8,245.2 222.3,252.1 221.8,255.4 221.3,256.5 220.8,257.4 220.3,256.3 219.8,255.2 219.3,254.1 218.8,253.0 218.3,251.9 217.8,250.7 217.3,246.6 216.8,226.5 216.3,214.1 215.8,212.1 215.3,210.1 214.8,210.3 214.3,210.6 213.8,210.9 213.3,211.4 212.8,212.2 212.3,213.0 211.8,215.6 211.3,224.3 210.8,231.7 210.3,234.2 209.8,236.7 209.3,239.4 208.8,242.9 208.3,246.3 207.8,249.8 207.3,251.1 206.8,252.4 206.3,253.8 205.8,261.7 205.3,285.9 204.8,286.4 204.3,287.0 203.8,287.6 203.3,287.3 202.8,286.7 202.3,286.2 201.8,281.3 201.3,266.2 200.8,255.9 200.3,255.5 199.8,255.2 199.3,254.9 198.8,254.2 198.3,253.2 197.8,252.2 197.3,251.2 196.8,251.2 196.3,251.5 195.8,251.7 195.3,252.0 194.8,252.2 194.3,251.4 193.8,250.4 193.3,244.6 192.8,233.5 192.3,232.8 191.8,233.7 191.3,237.1 190.8,237.7 190.3,238.1 189.8,238.5 189.3,238.3 188.8,238.1 188.3,237.8 187.8,237.6 187.3,237.3 186.8,237.2 186.3,237.1 185.8,237.0 185.3,236.9 184.8,236.8 184.3,236.7 183.8,231.8 183.3,225.0 182.8,224.9 182.3,224.9 181.8,224.9 181.3,230.3 180.8,237.4 180.3,243.7 179.8,249.9 179.3,256.2 178.8,262.6 178.3,273.2 177.8,283.5 177.3,292.8 176.8,298.6 176.3,301.4 175.8,302.5 175.3,302.4 174.8,302.2 174.3,302.0 173.8,296.1 173.3,289.6 172.8,289.6 172.3,289.6 171.8,293.6 171.3,299.7 170.8,300.9 170.3,302.2 169.8,303.2 169.3,303.1 168.8,303.0 168.3,302.8 167.8,302.7 167.3,296.9 166.8,288.0 166.3,241.9 165.8,221.9 165.3,217.4 164.8,213.4 164.3,211.4 163.8,209.3 163.3,207.3 162.8,205.5 162.3,203.9 161.8,202.3 161.3,202.2 160.8,202.2 160.3,202.2 159.8,202.2 159.3,202.2 158.8,202.2 158.3,202.2 157.8,202.2 157.3,202.2 156.8,202.2 156.3,202.2 155.8,202.2 155.3,202.2 154.8,202.2 154.3,202.2 153.8,202.2 153.3,202.2 152.8,202.2 152.3,202.2 151.8,202.2 151.3,202.2 150.8,202.2 150.3,202.2 149.8,202.2 149.3,202.2 148.8,202.2" fill="#000" stroke="#000" stroke-width="0.8" stroke-linejoin="round"/>
<polygon points="148.8,638.4 149.3,638.4 149.8,638.4 150.3,638.4 150.8,638.4 151.3,638.4 151.8,638.4 152.3,638.4 152.8,638.4 153.3,638.4 153.8,638.4 154.3,638.4 154.8,638.4 155.3,638.4 155.8,638.4 156.3,638.4 156.8,638.4 157.3,638.4 157.8,638.4 158.3,638.4 158.8,638.4 159.3,638.4 159.8,638.4 160.3,638.4 160.8,638.4 161.3,638.4 161.8,638.4 162.3,638.4 162.8,638.4 163.3,633.9 163.8,632.3 164.3,630.6 164.8,628.9 165.3,628.0 165.8,627.1 166.3,626.3 166.8,600.0 167.3,565.0 167.8,537.3 168.3,537.1 168.8,537.0 169.3,536.9 169.8,536.7 170.3,540.8 170.8,545.5 171.3,546.6 171.8,547.4 172.3,553.1 172.8,560.7 173.3,560.6 173.8,560.5 174.3,560.4 174.8,560.3 175.3,560.2 175.8,564.3 176.3,570.3 176.8,570.6 177.3,570.5 177.8,570.4 178.3,570.3 178.8,570.2 179.3,570.1 179.8,573.6 180.3,581.1 180.8,593.3 181.3,604.2 181.8,610.1 182.3,609.7 182.8,609.4 183.3,609.1 183.8,608.1 184.3,606.4 184.8,604.8 185.3,603.6 185.8,602.9 186.3,602.2 186.8,601.8 187.3,601.9 187.8,601.9 188.3,602.0 188.8,602.1 189.3,602.7 189.8,604.4 190.3,606.1 190.8,607.7 191.3,609.2 191.8,610.2 192.3,610.2 192.8,610.2 193.3,607.1 193.8,580.3 194.3,578.1 194.8,576.2 195.3,576.2 195.8,576.2 196.3,576.2 196.8,578.8 197.3,585.5 197.8,588.0 198.3,588.2 198.8,588.3 199.3,588.4 199.8,588.2 200.3,586.0 200.8,583.7 201.3,582.3 201.8,581.3 202.3,578.6 202.8,568.8 203.3,567.8 203.8,567.4 204.3,567.3 204.8,567.6 205.3,567.9 205.8,570.4 206.3,580.3 206.8,587.1 207.3,590.6 207.8,594.1 208.3,595.1 208.8,596.1 209.3,597.1 209.8,598.7 210.3,602.0 210.8,605.3 211.3,610.5 211.8,620.3 212.3,627.9 212.8,629.4 213.3,638.4 213.8,638.4 214.3,638.4 214.8,638.4 215.3,638.4 215.8,638.4 216.3,620.0 216.8,607.3 217.3,598.1 217.8,590.3 218.3,589.4 218.8,588.5 219.3,587.5 219.8,586.9 220.3,586.9 220.8,586.9 221.3,586.9 221.8,589.0 222.3,592.4 222.8,595.9 223.3,599.8 223.8,603.8 224.3,608.4 224.8,613.4 225.3,618.6 225.8,625.0 226.3,628.3 226.8,627.3 227.3,626.4 227.8,625.5 228.3,625.2 228.8,624.8 229.3,625.1 229.8,625.7 230.3,626.3 230.8,626.5 231.3,626.8 231.8,625.9 232.3,624.6 232.8,623.2 233.3,621.9 233.8,621.0 234.3,620.6 234.8,620.1 235.3,619.9 235.8,620.5 236.3,621.1 236.8,622.6 237.3,624.3 237.8,625.5 238.3,625.2 238.8,624.8 239.3,624.5 239.8,623.2 240.3,621.0 240.8,619.9 241.3,619.7 241.8,619.5 242.3,619.2 242.8,619.0 243.3,618.7 243.8,617.9 244.3,617.1 244.8,616.2 245.3,615.7 245.8,615.7 246.3,615.7 246.8,615.7 247.3,616.4 247.8,617.6 248.3,618.7 248.8,619.9 249.3,620.9 249.8,621.9 250.3,622.9 250.8,623.9 251.3,624.9 251.8,627.1 252.3,629.4 252.8,631.7 253.3,638.4 253.8,638.4 254.3,638.4 254.8,638.4 255.3,638.4 255.8,638.4 256.3,638.4 256.8,638.4 257.3,638.4 257.8,638.4 258.3,638.4 258.8,638.4 259.3,638.4 259.8,638.4 260.3,638.4 260.8,638.4 261.3,638.4 261.8,638.4 262.3,638.4 262.8,638.4 263.3,638.4 263.8,638.4 264.3,638.4 264.8,630.2 265.3,625.8 265.8,624.8 266.3,624.6 266.8,624.3 267.3,624.1 267.8,623.9 268.3,618.8 268.8,603.4 269.3,586.8 269.8,574.2 270.3,573.8 270.8,573.5 271.3,573.2 271.8,573.5 272.3,573.9 272.8,574.3 273.3,597.1 273.8,612.2 274.3,625.8 274.8,627.7 275.3,628.1 275.8,628.4 276.3,628.5 276.8,627.5 277.3,626.5 277.8,625.5 278.3,612.8 278.8,589.0 279.3,588.3 279.8,587.6 280.3,587.8 280.8,588.6 281.3,592.1 281.8,607.1 282.3,615.9 282.8,617.8 283.3,618.6 283.8,618.3 284.3,618.0 284.8,617.7 285.3,616.6 285.8,615.4 286.3,614.2 286.8,612.9 287.3,611.7 287.8,609.6 288.3,607.3 288.8,605.0 289.3,602.6 289.8,596.7 290.3,590.7 290.8,587.6 291.3,587.0 291.8,586.5 292.3,587.1 292.8,587.7 293.3,590.9 293.8,596.1 294.3,598.4 294.8,598.4 295.3,598.4 295.8,595.4 296.3,590.1 296.8,587.6 297.3,587.1 297.8,586.7 298.3,587.2 298.8,587.6 299.3,588.5 299.8,593.5 300.3,598.4 300.8,602.4 301.3,605.9 301.8,609.0 302.3,609.3 302.8,609.6 303.3,610.0 303.8,611.4 304.3,614.3 304.8,617.3 305.3,623.1 305.8,629.0 306.3,638.4 306.8,638.4 307.3,638.4 307.8,638.4 308.3,638.4 308.8,630.2 309.3,624.0 309.8,617.8 310.3,601.3 310.8,596.2 311.3,595.7 311.8,595.4 312.3,595.9 312.8,596.3 313.3,597.2 313.8,599.7 314.3,601.5 314.8,601.5 315.3,601.5 315.8,598.5 316.3,596.4 316.8,596.2 317.3,596.0 317.8,597.8 318.3,599.5 318.8,601.9 319.3,604.9 319.8,607.9 320.3,611.9 320.8,615.9 321.3,619.9 321.8,623.8 322.3,627.6 322.8,630.1 323.3,638.4 323.8,638.4 324.3,638.4 324.8,638.4 325.3,633.0 325.8,630.2 326.3,627.0 326.8,622.3 327.3,615.4 327.8,608.5 328.3,592.4 328.8,585.8 329.3,585.3 329.8,584.9 330.3,585.3 330.8,585.7 331.3,586.1 331.8,599.5 332.3,614.1 332.8,629.0 333.3,631.5 333.8,638.4 334.3,638.4 334.8,638.4 335.3,638.4 335.8,638.4 336.3,638.4 336.8,638.4 337.3,638.4 337.8,638.4 338.3,638.4 338.8,638.4 339.3,638.4 339.8,638.4 340.3,638.4 340.8,638.4 341.3,638.4 341.8,638.4 342.3,638.4 342.8,638.4 343.3,638.4 343.8,638.4 344.3,638.4 344.8,638.4 345.3,638.4 345.8,638.4 346.3,638.4 346.8,638.4 347.3,638.4 347.8,638.4 348.3,638.4 348.8,638.4 349.3,636.8 349.8,636.7 350.3,636.0 350.8,634.8 351.3,633.7 351.8,632.5 352.3,630.1 352.8,627.4 353.3,624.8 353.8,620.4 354.3,605.6 354.8,589.9 355.3,568.6 355.8,552.7 356.3,544.9 356.8,542.1 357.3,541.9 357.8,541.7 358.3,541.5 358.8,541.3 359.3,541.6 359.8,541.9 360.3,542.2 360.8,542.4 361.3,550.4 361.8,561.6 362.3,595.5 362.8,611.2 363.3,619.6 363.8,622.3 364.3,623.0 364.8,623.6 365.3,625.6 365.8,638.4 366.3,638.4 366.8,638.4 367.3,638.4 367.8,638.4 368.3,638.4 368.8,628.4 369.3,627.6 369.8,626.8 370.3,626.0 370.8,625.4 371.3,625.1 371.8,624.7 372.3,624.4 372.8,624.8 373.3,625.3 373.8,625.7 374.3,626.5 374.8,630.5 375.3,638.4 375.8,638.4 376.3,638.4 376.8,638.4 377.3,638.4 377.8,631.0 378.3,619.8 378.8,603.5 379.3,601.2 379.8,600.8 380.3,600.4 380.8,600.5 381.3,600.9 381.8,601.3 382.3,602.9 382.8,606.5 383.3,608.7 383.8,610.2 384.3,611.7 384.8,614.0 385.3,617.3 385.8,620.6 386.3,623.8 386.8,626.8 387.3,629.8 387.8,631.9 388.3,633.9 388.8,638.4 389.3,638.4 389.8,638.4 390.3,638.4 390.8,638.4 391.3,638.4 391.8,638.4 392.3,638.4 392.8,638.4 393.3,638.4 393.8,638.4 394.3,638.4 394.8,638.4 395.3,638.4 395.8,638.4 396.3,638.4 396.8,638.4 397.3,638.4 397.8,638.4 398.3,638.4 398.8,638.4 399.3,638.4 399.8,638.4 400.3,638.4 400.8,638.4 401.3,638.4 401.8,638.4 402.3,638.4 402.8,638.4 403.3,638.4 403.8,638.4 404.3,638.4 404.8,638.4 405.3,638.4 405.8,638.4 406.3,638.4 406.8,638.4 407.3,629.0 407.8,628.8 408.3,628.7 408.8,625.0 409.3,619.5 409.8,610.5 410.3,599.9 410.8,598.5 411.3,597.9 411.8,597.4 412.3,597.6 412.8,598.1 413.3,598.6 413.8,599.8 414.3,603.5 414.8,610.2 415.3,627.1 415.8,627.8 416.3,628.1 416.8,628.4 417.3,628.5 417.8,627.9 418.3,627.2 418.8,626.5 419.3,625.0 419.8,622.5 420.3,621.6 420.8,621.2 421.3,620.8 421.8,620.9 422.3,621.4 422.8,621.9 423.3,622.4 423.8,624.9 424.3,627.9 424.8,630.2 425.3,638.4 425.8,638.4 426.3,638.4 426.8,638.4 427.3,638.4 427.8,630.7 428.3,629.9 428.8,629.7 429.3,629.6 429.8,629.4 430.3,629.3 430.8,629.8 431.3,630.3 431.8,630.8 432.3,631.0 432.8,630.8 433.3,630.6 433.8,630.3 434.3,630.1 434.8,629.8 435.3,629.6 435.8,629.3 436.3,638.4 436.8,638.4 437.3,628.4 437.8,627.7 438.3,627.1 438.8,626.4 439.3,621.7 439.8,615.4 440.3,609.8 440.8,604.2 441.3,603.2 441.8,602.4 442.3,601.5 442.8,601.0 443.3,601.3 443.8,601.6 444.3,602.0 444.8,604.1 445.3,608.1 445.8,611.6 446.3,614.6 446.8,617.7 447.3,624.1 447.8,629.0 448.3,630.4 448.8,638.4 449.3,638.4 449.8,638.4 450.3,638.4 450.8,638.4 451.3,638.4 451.8,638.4 452.3,638.4 452.8,638.4 453.3,638.4 453.8,638.4 454.3,638.4 454.8,638.4 455.3,638.4 455.8,638.4 456.3,638.4 456.8,638.4 457.3,638.4 457.8,638.4 458.3,638.4 458.8,638.4 459.3,638.4 459.8,638.4 460.3,638.4 460.8,638.4 461.3,638.4 461.8,638.4 462.3,638.4 462.8,638.4 463.3,638.4 463.8,638.4 464.3,638.4 464.8,638.4 465.3,638.4 465.8,638.4 466.3,638.4 466.8,638.4 467.3,638.4 467.8,638.4 468.3,638.4 468.8,638.4 469.3,638.4 469.8,638.4 470.3,638.4 470.8,638.4 471.3,638.4 471.8,638.4 472.3,638.4 472.8,638.4 473.3,638.4 473.8,638.4 474.3,638.4 474.8,638.4 475.3,631.1 475.8,624.1 476.3,612.5 476.8,553.3 477.3,553.0 477.8,552.7 478.3,552.4 478.8,551.7 479.3,546.4 479.8,542.8 480.3,542.8 480.8,542.7 481.3,542.6 481.8,543.9 482.3,547.7 482.8,551.6 483.3,567.4 483.8,583.1 484.3,584.1 484.8,585.1 485.3,574.6 485.8,557.5 486.3,548.3 486.8,543.2 487.3,543.1 487.8,543.0 488.3,543.0 488.8,543.3 489.3,545.4 489.8,547.4 490.3,549.5 490.8,568.3 491.3,583.9 491.8,582.5 492.3,581.0 492.8,575.8 493.3,569.1 493.8,568.4 494.3,568.0 494.8,567.7 495.3,568.0 495.8,568.6 496.3,569.1 496.8,571.4 497.3,575.3 497.8,576.2 498.3,576.2 498.8,576.2 499.3,572.9 499.8,566.5 500.3,564.8 500.8,564.4 501.3,564.0 501.8,564.2 502.3,564.7 502.8,565.2 503.3,566.7 503.8,584.0 504.3,600.9 504.8,610.9 505.3,620.0 505.8,620.2 506.3,620.4 506.8,620.6 507.3,611.6 507.8,596.5 508.3,590.1 508.8,589.6 509.3,589.1 509.8,588.6 510.3,588.1 510.8,587.6 511.3,587.1 511.8,586.6 512.3,586.1 512.8,585.6 513.3,585.4 513.8,585.2 514.3,585.1 514.8,585.0 515.3,586.1 515.8,593.3 516.3,600.5 516.8,610.5 517.3,621.8 517.8,622.5 518.3,622.5 518.8,622.5 519.3,619.6 519.8,615.5 520.3,611.3 520.8,606.0 521.3,600.3 521.8,598.6 522.3,598.2 522.8,597.9 523.3,598.3 523.8,598.9 524.3,599.5 524.8,602.3 525.3,605.7 525.8,606.3 526.3,606.2 526.8,606.0 527.3,605.8 527.8,605.0 528.3,604.2 528.8,603.3 529.3,601.9 529.8,598.9 530.3,595.9 530.8,592.9 531.3,591.4 531.8,590.9 532.3,590.5 532.8,590.3 533.3,590.7 533.8,591.2 534.3,591.6 534.8,597.5 535.3,604.3 535.8,609.5 536.3,614.5 536.8,617.8 537.3,618.2 537.8,618.7 538.3,619.2 538.8,619.5 539.3,619.7 539.8,619.8 540.3,620.0 540.8,621.2 541.3,622.6 541.8,623.9 542.3,625.1 542.8,625.8 543.3,626.6 543.8,627.3 544.3,628.1 544.8,628.7 545.3,628.8 545.8,628.9 546.3,629.1 546.8,629.2 547.3,629.3 547.8,629.3 548.3,638.4 548.8,638.4 549.3,638.4 549.8,638.4 550.3,638.4 550.8,638.4 551.3,638.4 551.8,638.4 552.3,638.4 552.8,638.4 553.3,638.4 553.8,638.4 554.3,638.4 554.8,638.4 555.3,638.4 555.8,638.4 556.3,638.4 556.8,638.4 557.3,638.4 557.8,638.4 558.3,638.4 558.8,638.4 559.3,638.4 559.8,638.4 560.3,638.4 560.8,638.4 561.3,638.4 561.8,638.4 562.3,638.4 562.8,638.4 563.3,638.4 563.8,638.4 564.3,638.4 564.8,638.4 565.3,638.4 565.8,638.4 566.3,638.4 566.8,638.4 567.3,638.4 567.8,638.4 568.3,638.4 568.8,638.4 569.3,638.4 569.8,638.4 570.3,638.4 570.8,638.4 571.3,638.4 571.8,638.4 572.3,638.4 572.8,618.2 573.3,598.4 573.8,574.5 574.3,548.9 574.8,547.6 575.3,546.8 575.8,546.0 576.3,545.2 576.8,544.8 577.3,544.3 577.8,543.8 578.3,543.3 578.8,543.6 579.3,544.1 579.8,544.6 580.3,551.5 580.8,560.3 581.3,568.0 581.8,575.4 582.3,583.9 582.8,594.4 583.3,599.8 583.8,601.1 584.3,602.4 584.8,603.8 585.3,604.3 585.8,604.6 586.3,604.9 586.8,605.7 587.3,610.7 587.8,615.7 588.3,621.2 588.8,638.4 589.3,638.4 589.8,638.4 590.3,638.4 590.8,633.0 591.3,596.9 591.8,584.7 592.3,579.1 592.8,578.7 593.3,578.3 593.8,578.2 594.3,578.6 594.8,579.1 595.3,585.0 595.8,598.0 596.3,608.7 596.8,616.7 597.3,624.7 597.8,625.9 598.3,626.9 598.8,638.4 599.3,638.4 599.8,638.4 600.3,618.7 600.8,610.3 601.3,600.4 601.8,592.8 602.3,592.3 602.8,591.8 603.3,591.4 603.8,591.9 604.3,592.4 604.8,593.1 605.3,605.6 605.8,618.0 606.3,638.4 606.8,638.4 607.3,638.4 607.8,638.4 608.3,638.4 608.8,638.4 609.3,638.4 609.8,638.4 610.3,630.2 610.8,616.0 611.3,607.6 611.8,605.3 612.3,602.9 612.8,600.6 613.3,593.9 613.8,587.3 614.3,586.7 614.8,586.1 615.3,585.5 615.8,585.9 616.3,586.4 616.8,586.9 617.3,588.2 617.8,594.8 618.3,600.5 618.8,601.6 619.3,602.8 619.8,604.0 620.3,605.1 620.8,607.0 621.3,608.9 621.8,610.8 622.3,617.8 622.8,626.9 623.3,627.8 623.8,628.2 624.3,638.4 624.8,638.4 625.3,622.3 625.8,618.6 626.3,614.0 626.8,609.0 627.3,604.9 627.8,603.7 628.3,602.4 628.8,601.2 629.3,600.0 629.8,599.0 630.3,598.7 630.8,598.5 631.3,598.2 631.8,598.0 632.3,597.5 632.8,596.2 633.3,595.0 633.8,594.0 634.3,593.6 634.8,593.2 635.3,592.9 635.8,593.5 636.3,594.1 636.8,594.6 637.3,598.2 637.8,602.4 638.3,606.3 638.8,609.7 639.3,613.0 639.8,616.0 640.3,618.5 640.8,621.0 641.3,622.8 641.8,623.6 642.3,624.5 642.8,625.3 643.3,626.1 643.8,626.0 644.3,625.8 644.8,625.6 645.3,625.4 645.8,625.2 646.3,625.0 646.8,625.2 647.3,625.5 647.8,625.8 648.3,626.1 648.8,626.4 649.3,626.7 649.8,626.9 650.3,627.0 650.8,627.1 651.3,627.3 651.8,627.4 652.3,625.5 652.8,621.6 653.3,617.6 653.8,612.1 654.3,606.5 654.8,606.1 655.3,605.8 655.8,605.4 656.3,605.1 656.8,605.2 657.3,605.4 657.8,605.6 658.3,605.7 658.8,601.5 659.3,597.3 659.8,590.5 660.3,584.1 660.8,583.6 661.3,583.1 661.8,583.4 662.3,583.8 662.8,585.1 663.3,595.8 663.8,600.6 664.3,601.2 664.8,601.8 665.3,604.8 665.8,612.1 666.3,616.9 666.8,620.0 667.3,623.1 667.8,626.0 668.3,638.4 668.8,638.4 669.3,638.4 669.8,638.4 670.3,638.4 670.8,638.4 671.3,638.4 671.8,638.4 672.3,638.4 672.8,638.4 673.3,638.4 673.8,638.4 674.3,638.4 674.8,638.4 675.3,638.4 675.8,638.4 676.3,638.4 676.8,638.4 677.3,638.4 677.8,638.4 678.3,638.4 678.8,638.4 679.3,638.4 679.8,638.4 680.3,638.4 680.8,638.4 681.3,638.4 681.8,638.4 682.3,638.4 682.8,638.4 683.3,638.4 683.8,638.4 684.3,638.4 684.8,638.4 685.3,638.4 685.8,638.4 686.3,638.4 686.8,638.4 687.3,638.4 687.8,638.4 688.3,638.4 688.8,638.4 689.3,638.4 689.8,638.4 690.3,638.4 690.8,638.4 691.3,624.0 691.8,614.1 692.3,604.2 692.8,594.3 693.3,575.7 693.8,555.8 694.3,542.5 694.8,539.7 695.3,537.0 695.8,536.5 696.3,536.2 696.8,535.9 697.3,536.2 697.8,536.6 698.3,537.0 698.8,537.6 699.3,538.9 699.8,540.2 700.3,541.5 700.8,546.6 701.3,556.5 701.8,565.3 702.3,572.8 702.8,580.2 703.3,588.2 703.8,596.1 704.3,601.1 704.8,602.7 705.3,604.4 705.8,604.8 706.3,604.0 706.8,603.2 707.3,602.3 707.8,602.0 708.3,601.8 708.8,601.7 709.3,601.5 709.8,601.9 710.3,602.2 710.8,602.5 711.3,602.9 711.8,603.2 712.3,603.6 712.8,603.5 713.3,595.0 713.8,589.0 714.3,588.4 714.8,587.8 715.3,587.4 715.8,588.0 716.3,588.6 716.8,590.6 717.3,605.3 717.8,610.9 718.3,614.7 718.8,618.6 719.3,621.3 719.8,623.4 720.3,625.4 720.8,626.4 721.3,626.6 721.8,626.9 722.3,627.1 722.8,627.3 723.3,627.6 723.8,627.8 724.3,638.4 724.8,638.4 725.3,638.4 725.8,638.4 726.3,638.4 726.8,638.4 727.3,638.4 727.8,638.4 728.3,638.4 728.8,638.4 729.3,638.4 729.8,638.4 730.3,638.4 730.8,638.4 731.3,638.4 731.8,638.4 732.3,628.3 732.8,628.4 733.3,628.5 733.8,628.6 734.3,628.2 734.8,626.6 735.3,624.9 735.8,623.3 736.3,621.1 736.8,618.4 737.3,615.7 737.8,613.7 738.3,613.3 738.8,612.9 739.3,612.8 739.8,613.5 740.3,614.2 740.8,614.8 741.3,619.2 741.8,626.3 742.3,626.8 742.8,626.0 743.3,625.3 743.8,624.7 744.3,624.4 744.8,624.0 745.3,623.9 745.8,624.3 746.3,624.7 746.8,625.7 747.3,627.7 747.8,629.7 748.3,630.1 748.8,630.2 749.3,630.4 749.8,638.4 750.3,621.9 750.8,614.1 751.3,605.7 751.8,600.7 752.3,600.3 752.8,599.9 753.3,599.9 753.8,600.5 754.3,601.1 754.8,601.7 755.3,602.4 755.8,603.2 756.3,604.0 756.8,608.0 757.3,612.1 757.8,616.2 758.3,615.8 758.8,615.3 759.3,612.9 759.8,608.6 760.3,606.2 760.8,605.8 761.3,605.4 761.8,605.6 762.3,606.5 762.8,607.3 763.3,611.0 763.8,617.2 764.3,622.5 764.8,627.0 765.3,631.6 765.8,634.0 766.3,638.4 766.8,638.4 767.3,638.4 767.8,638.4 768.3,638.4 768.8,620.1 769.3,616.8 769.8,615.6 770.3,615.0 770.8,614.9 771.3,614.8 771.8,614.8 772.3,615.1 772.8,615.5 773.3,615.8 773.8,616.2 774.3,617.2 774.8,620.6 775.3,624.1 775.8,627.5 776.3,630.0 776.8,631.9 777.3,633.7 777.8,635.6 778.3,638.4 778.8,638.4 779.3,638.4 779.8,638.4 779.8,642.4 779.3,642.4 778.8,642.4 778.3,642.4 777.8,644.4 777.3,645.9 776.8,647.5 776.3,649.0 775.8,651.4 775.3,655.0 774.8,658.6 774.3,659.1 773.8,659.6 773.3,660.0 772.8,660.2 772.3,659.9 771.8,659.6 771.3,659.3 770.8,659.1 770.3,658.9 769.8,657.6 769.3,654.5 768.8,651.7 768.3,642.4 767.8,642.4 767.3,642.4 766.8,642.4 766.3,642.4 765.8,647.4 765.3,652.3 764.8,657.3 764.3,664.0 763.8,671.5 763.3,677.5 762.8,678.0 762.3,678.6 761.8,679.2 761.3,679.8 760.8,679.3 760.3,678.7 759.8,678.2 759.3,677.6 758.8,675.6 758.3,672.1 757.8,668.8 757.3,672.7 756.8,676.7 756.3,678.8 755.8,679.2 755.3,679.6 754.8,680.0 754.3,680.4 753.8,680.0 753.3,679.5 752.8,679.1 752.3,678.7 751.8,675.1 751.3,670.7 750.8,664.8 750.3,658.8 749.8,642.4 749.3,655.7 748.8,655.4 748.3,655.3 747.8,655.8 747.3,656.3 746.8,656.8 746.3,657.2 745.8,657.5 745.3,657.8 744.8,658.2 744.3,657.2 743.8,656.0 743.3,654.8 742.8,653.7 742.3,652.4 741.8,651.2 741.3,652.0 740.8,661.8 740.3,665.3 739.8,665.7 739.3,666.2 738.8,666.6 738.3,666.7 737.8,666.2 737.3,665.8 736.8,665.3 736.3,663.6 735.8,657.5 735.3,652.5 734.8,652.0 734.3,651.5 733.8,651.0 733.3,650.5 732.8,650.1 732.3,650.0 731.8,642.4 731.3,642.4 730.8,642.4 730.3,642.4 729.8,642.4 729.3,642.4 728.8,642.4 728.3,642.4 727.8,642.4 727.3,642.4 726.8,642.4 726.3,642.4 725.8,642.4 725.3,642.4 724.8,642.4 724.3,642.4 723.8,648.9 723.3,649.0 722.8,649.2 722.3,649.4 721.8,649.5 721.3,650.0 720.8,650.6 720.3,651.2 719.8,651.7 719.3,652.3 718.8,654.1 718.3,657.9 717.8,661.8 717.3,669.4 716.8,696.8 716.3,700.1 715.8,700.7 715.3,701.4 714.8,701.0 714.3,700.6 713.8,700.2 713.3,684.5 712.8,679.3 712.3,674.8 711.8,672.8 711.3,673.6 710.8,674.4 710.3,675.2 709.8,675.8 709.3,676.5 708.8,677.2 708.3,677.2 707.8,677.0 707.3,676.8 706.8,675.5 706.3,673.0 705.8,672.1 705.3,671.7 704.8,671.3 704.3,695.6 703.8,718.3 703.3,718.8 702.8,719.6 702.3,725.7 701.8,731.8 701.3,736.3 700.8,740.8 700.3,743.1 699.8,743.8 699.3,744.5 698.8,745.1 698.3,744.9 697.8,744.6 697.3,744.2 696.8,743.8 696.3,743.4 695.8,741.8 695.3,740.0 694.8,738.2 694.3,735.5 693.8,726.6 693.3,717.6 692.8,704.9 692.3,690.1 691.8,675.2 691.3,660.3 690.8,642.4 690.3,642.4 689.8,642.4 689.3,642.4 688.8,642.4 688.3,642.4 687.8,642.4 687.3,642.4 686.8,642.4 686.3,642.4 685.8,642.4 685.3,642.4 684.8,642.4 684.3,642.4 683.8,642.4 683.3,642.4 682.8,642.4 682.3,642.4 681.8,642.4 681.3,642.4 680.8,642.4 680.3,642.4 679.8,642.4 679.3,642.4 678.8,642.4 678.3,642.4 677.8,642.4 677.3,642.4 676.8,642.4 676.3,642.4 675.8,642.4 675.3,642.4 674.8,642.4 674.3,642.4 673.8,642.4 673.3,642.4 672.8,642.4 672.3,642.4 671.8,642.4 671.3,642.4 670.8,642.4 670.3,642.4 669.8,642.4 669.3,642.4 668.8,642.4 668.3,642.4 667.8,658.8 667.3,661.7 666.8,664.6 666.3,671.6 665.8,679.0 665.3,686.3 664.8,693.4 664.3,698.0 663.8,698.7 663.3,699.4 662.8,699.6 662.3,699.1 661.8,698.7 661.3,697.8 660.8,695.2 660.3,692.5 659.8,689.8 659.3,677.0 658.8,666.1 658.3,665.6 657.8,665.1 657.3,664.6 656.8,664.2 656.3,663.8 655.8,663.4 655.3,663.1 654.8,662.7 654.3,661.7 653.8,660.0 653.3,658.4 652.8,656.7 652.3,655.8 651.8,655.0 651.3,654.3 650.8,653.5 650.3,652.8 649.8,652.4 649.3,652.1 648.8,651.8 648.3,651.5 647.8,651.2 647.3,650.9 646.8,650.8 646.3,650.8 645.8,650.8 645.3,650.8 644.8,650.8 644.3,650.8 643.8,651.0 643.3,651.6 642.8,652.3 642.3,652.9 641.8,653.5 641.3,654.8 640.8,657.1 640.3,659.4 639.8,661.7 639.3,664.0 638.8,666.3 638.3,668.6 637.8,670.9 637.3,672.1 636.8,673.1 636.3,674.0 635.8,674.9 635.3,675.3 634.8,675.7 634.3,676.0 633.8,676.4 633.3,676.8 632.8,677.2 632.3,677.6 631.8,678.0 631.3,678.5 630.8,678.2 630.3,677.6 629.8,677.0 629.3,676.4 628.8,675.6 628.3,674.6 627.8,673.6 627.3,672.6 626.8,670.5 626.3,668.0 625.8,665.5 625.3,660.6 624.8,642.4 624.3,642.4 623.8,650.5 623.3,650.4 622.8,650.7 622.3,659.1 621.8,667.5 621.3,673.4 620.8,677.4 620.3,681.2 619.8,683.9 619.3,686.5 618.8,689.1 618.3,691.7 617.8,697.9 617.3,704.8 616.8,706.2 616.3,706.6 615.8,707.1 615.3,707.5 614.8,706.9 614.3,706.4 613.8,705.8 613.3,700.7 612.8,695.2 612.3,690.2 611.8,685.2 611.3,678.6 610.8,671.1 610.3,664.1 609.8,642.4 609.3,642.4 608.8,642.4 608.3,642.4 607.8,642.4 607.3,642.4 606.8,642.4 606.3,642.4 605.8,649.6 605.3,656.6 604.8,674.7 604.3,684.3 603.8,684.7 603.3,685.1 602.8,685.3 602.3,684.9 601.8,684.5 601.3,684.1 600.8,676.7 600.3,668.4 599.8,642.4 599.3,642.4 598.8,642.4 598.3,652.6 597.8,654.0 597.3,659.0 596.8,664.0 596.3,678.0 595.8,693.4 595.3,694.0 594.8,694.7 594.3,695.3 593.8,695.8 593.3,695.1 592.8,694.4 592.3,693.7 591.8,684.9 591.3,670.7 590.8,660.1 590.3,642.4 589.8,642.4 589.3,642.4 588.8,642.4 588.3,655.7 587.8,660.7 587.3,665.3 586.8,667.6 586.3,669.9 585.8,672.2 585.3,674.0 584.8,674.9 584.3,675.7 583.8,676.6 583.3,680.7 582.8,699.2 582.3,715.1 581.8,719.3 581.3,723.4 580.8,728.5 580.3,737.2 579.8,744.1 579.3,744.7 578.8,745.4 578.3,745.7 577.8,745.1 577.3,744.6 576.8,744.0 576.3,742.2 575.8,740.5 575.3,738.8 574.8,737.0 574.3,722.2 573.8,703.3 573.3,684.1 572.8,664.4 572.3,642.4 571.8,642.4 571.3,642.4 570.8,642.4 570.3,642.4 569.8,642.4 569.3,642.4 568.8,642.4 568.3,642.4 567.8,642.4 567.3,642.4 566.8,642.4 566.3,642.4 565.8,642.4 565.3,642.4 564.8,642.4 564.3,642.4 563.8,642.4 563.3,642.4 562.8,642.4 562.3,642.4 561.8,642.4 561.3,642.4 560.8,642.4 560.3,642.4 559.8,642.4 559.3,642.4 558.8,642.4 558.3,642.4 557.8,642.4 557.3,642.4 556.8,642.4 556.3,642.4 555.8,642.4 555.3,642.4 554.8,642.4 554.3,642.4 553.8,642.4 553.3,642.4 552.8,642.4 552.3,642.4 551.8,642.4 551.3,642.4 550.8,642.4 550.3,642.4 549.8,642.4 549.3,642.4 548.8,642.4 548.3,642.4 547.8,647.7 547.3,648.4 546.8,649.0 546.3,649.7 545.8,650.4 545.3,651.0 544.8,651.7 544.3,652.4 543.8,653.2 543.3,654.2 542.8,655.2 542.3,656.2 541.8,657.2 541.3,659.1 540.8,661.8 540.3,664.4 539.8,667.0 539.3,668.9 538.8,670.5 538.3,672.2 537.8,673.9 537.3,675.8 536.8,677.8 536.3,679.8 535.8,684.8 535.3,694.7 534.8,698.7 534.3,699.3 533.8,699.8 533.3,700.0 532.8,699.6 532.3,699.3 531.8,698.1 531.3,692.8 530.8,687.8 530.3,683.3 529.8,678.8 529.3,678.0 528.8,677.4 528.3,676.9 527.8,676.3 527.3,674.5 526.8,672.3 526.3,670.6 525.8,670.8 525.3,671.0 524.8,671.2 524.3,673.6 523.8,676.1 523.3,677.3 522.8,677.1 522.3,676.9 521.8,676.8 521.3,673.2 520.8,668.5 520.3,665.5 519.8,663.1 519.3,661.4 518.8,661.7 518.3,662.1 517.8,662.4 517.3,665.3 516.8,668.8 516.3,673.7 515.8,681.8 515.3,687.7 514.8,689.1 514.3,690.6 513.8,691.5 513.3,691.3 512.8,691.1 512.3,690.8 511.8,689.3 511.3,687.8 510.8,686.7 510.3,686.0 509.8,685.3 509.3,684.5 508.8,683.8 508.3,679.0 507.8,671.9 507.3,668.0 506.8,664.6 506.3,662.8 505.8,663.6 505.3,664.4 504.8,666.8 504.3,676.6 503.8,686.5 503.3,694.4 502.8,701.4 502.3,707.3 501.8,708.8 501.3,710.3 500.8,711.8 500.3,722.6 499.8,723.7 499.3,724.5 498.8,725.3 498.3,725.4 497.8,725.2 497.3,725.0 496.8,724.9 496.3,724.7 495.8,724.5 495.3,724.4 494.8,723.7 494.3,721.7 493.8,719.7 493.3,716.9 492.8,713.9 492.3,710.8 491.8,701.0 491.3,685.4 490.8,682.7 490.3,683.2 489.8,695.9 489.3,731.7 488.8,732.8 488.3,733.8 487.8,734.7 487.3,734.5 486.8,734.3 486.3,734.1 485.8,729.1 485.3,713.0 484.8,698.7 484.3,699.9 483.8,701.0 483.3,706.8 482.8,741.0 482.3,741.6 481.8,742.1 481.3,742.7 480.8,742.4 480.3,742.0 479.8,741.7 479.3,739.9 478.8,737.4 478.3,734.9 477.8,732.4 477.3,729.9 476.8,727.5 476.3,709.4 475.8,684.7 475.3,659.9 474.8,642.4 474.3,642.4 473.8,642.4 473.3,642.4 472.8,642.4 472.3,642.4 471.8,642.4 471.3,642.4 470.8,642.4 470.3,642.4 469.8,642.4 469.3,642.4 468.8,642.4 468.3,642.4 467.8,642.4 467.3,642.4 466.8,642.4 466.3,642.4 465.8,642.4 465.3,642.4 464.8,642.4 464.3,642.4 463.8,642.4 463.3,642.4 462.8,642.4 462.3,642.4 461.8,642.4 461.3,642.4 460.8,642.4 460.3,642.4 459.8,642.4 459.3,642.4 458.8,642.4 458.3,642.4 457.8,642.4 457.3,642.4 456.8,642.4 456.3,642.4 455.8,642.4 455.3,642.4 454.8,642.4 454.3,642.4 453.8,642.4 453.3,642.4 452.8,642.4 452.3,642.4 451.8,642.4 451.3,642.4 450.8,642.4 450.3,642.4 449.8,642.4 449.3,642.4 448.8,642.4 448.3,652.3 447.8,662.2 447.3,683.1 446.8,698.6 446.3,699.5 445.8,700.1 445.3,700.6 444.8,700.5 444.3,700.1 443.8,699.7 443.3,698.3 442.8,695.8 442.3,693.3 441.8,690.3 441.3,686.9 440.8,683.3 440.3,678.4 439.8,673.4 439.3,667.5 438.8,660.6 438.3,656.9 437.8,655.6 437.3,654.4 436.8,642.4 436.3,642.4 435.8,652.2 435.3,651.5 434.8,651.5 434.3,651.6 433.8,651.8 433.3,651.9 432.8,652.0 432.3,652.3 431.8,652.6 431.3,652.9 430.8,653.2 430.3,653.2 429.8,653.0 429.3,652.9 428.8,652.7 428.3,651.3 427.8,649.4 427.3,642.4 426.8,642.4 426.3,642.4 425.8,642.4 425.3,642.4 424.8,649.2 424.3,651.0 423.8,655.4 423.3,658.9 422.8,659.6 422.3,660.2 421.8,660.6 421.3,660.4 420.8,660.3 420.3,660.1 419.8,658.6 419.3,657.1 418.8,655.9 418.3,654.9 417.8,653.9 417.3,652.9 416.8,652.4 416.3,652.1 415.8,651.7 415.3,651.6 414.8,661.5 414.3,670.3 413.8,675.9 413.3,680.6 412.8,683.3 412.3,686.0 411.8,688.0 411.3,688.6 410.8,689.1 410.3,689.6 409.8,689.0 409.3,688.5 408.8,687.9 408.3,687.3 407.8,672.0 407.3,653.9 406.8,642.4 406.3,642.4 405.8,642.4 405.3,642.4 404.8,642.4 404.3,642.4 403.8,642.4 403.3,642.4 402.8,642.4 402.3,642.4 401.8,642.4 401.3,642.4 400.8,642.4 400.3,642.4 399.8,642.4 399.3,642.4 398.8,642.4 398.3,642.4 397.8,642.4 397.3,642.4 396.8,642.4 396.3,642.4 395.8,642.4 395.3,642.4 394.8,642.4 394.3,642.4 393.8,642.4 393.3,642.4 392.8,642.4 392.3,642.4 391.8,642.4 391.3,642.4 390.8,642.4 390.3,642.4 389.8,642.4 389.3,642.4 388.8,642.4 388.3,646.2 387.8,647.0 387.3,647.8 386.8,650.3 386.3,652.8 385.8,654.6 385.3,655.9 384.8,657.3 384.3,658.6 383.8,660.9 383.3,663.3 382.8,668.4 382.3,678.3 381.8,682.6 381.3,683.2 380.8,683.8 380.3,683.9 379.8,683.4 379.3,683.0 378.8,682.5 378.3,670.5 377.8,656.9 377.3,642.4 376.8,642.4 376.3,642.4 375.8,642.4 375.3,642.4 374.8,647.3 374.3,648.8 373.8,649.0 373.3,649.1 372.8,649.2 372.3,649.3 371.8,649.4 371.3,649.5 370.8,649.5 370.3,649.4 369.8,649.3 369.3,649.3 368.8,649.2 368.3,642.4 367.8,642.4 367.3,642.4 366.8,642.4 366.3,642.4 365.8,642.4 365.3,650.0 364.8,650.5 364.3,651.6 363.8,652.7 363.3,653.8 362.8,654.9 362.3,672.4 361.8,720.6 361.3,721.3 360.8,722.1 360.3,722.9 359.8,732.9 359.3,735.7 358.8,736.0 358.3,736.4 357.8,736.4 357.3,736.1 356.8,735.7 356.3,735.4 355.8,723.8 355.3,710.1 354.8,693.1 354.3,676.4 353.8,666.9 353.3,657.5 352.8,652.7 352.3,650.8 351.8,648.9 351.3,647.2 350.8,646.0 350.3,644.7 349.8,643.7 349.3,643.7 348.8,642.4 348.3,642.4 347.8,642.4 347.3,642.4 346.8,642.4 346.3,642.4 345.8,642.4 345.3,642.4 344.8,642.4 344.3,642.4 343.8,642.4 343.3,642.4 342.8,642.4 342.3,642.4 341.8,642.4 341.3,642.4 340.8,642.4 340.3,642.4 339.8,642.4 339.3,642.4 338.8,642.4 338.3,642.4 337.8,642.4 337.3,642.4 336.8,642.4 336.3,642.4 335.8,642.4 335.3,642.4 334.8,642.4 334.3,642.4 333.8,642.4 333.3,647.1 332.8,647.5 332.3,658.9 331.8,679.7 331.3,709.5 330.8,729.4 330.3,730.2 329.8,731.0 329.3,731.6 328.8,730.7 328.3,729.9 327.8,724.2 327.3,683.1 326.8,667.1 326.3,655.1 325.8,647.5 325.3,647.0 324.8,642.4 324.3,642.4 323.8,642.4 323.3,642.4 322.8,647.2 322.3,647.7 321.8,650.9 321.3,654.3 320.8,657.6 320.3,660.6 319.8,663.6 319.3,666.6 318.8,672.2 318.3,679.0 317.8,681.6 317.3,682.4 316.8,683.3 316.3,683.3 315.8,683.1 315.3,682.8 314.8,682.6 314.3,682.3 313.8,683.2 313.3,684.4 312.8,695.5 312.3,699.4 311.8,699.9 311.3,700.5 310.8,700.5 310.3,699.9 309.8,699.3 309.3,692.8 308.8,672.1 308.3,642.4 307.8,642.4 307.3,642.4 306.8,642.4 306.3,642.4 305.8,652.6 305.3,653.9 304.8,655.2 304.3,656.9 303.8,658.5 303.3,660.2 302.8,661.5 302.3,662.2 301.8,662.8 301.3,663.5 300.8,668.6 300.3,676.4 299.8,690.9 299.3,706.3 298.8,708.9 298.3,709.8 297.8,710.6 297.3,710.1 296.8,709.5 296.3,708.9 295.8,708.2 295.3,695.8 294.8,684.7 294.3,684.7 293.8,684.7 293.3,684.7 292.8,697.5 292.3,699.0 291.8,699.8 291.3,699.9 290.8,699.3 290.3,698.8 289.8,693.5 289.3,671.6 288.8,668.9 288.3,666.6 287.8,664.3 287.3,662.3 286.8,661.3 286.3,660.3 285.8,659.3 285.3,658.3 284.8,656.5 284.3,652.2 283.8,649.9 283.3,649.4 282.8,649.4 282.3,660.1 281.8,671.1 281.3,682.5 280.8,685.5 280.3,686.4 279.8,686.7 279.3,686.1 278.8,685.4 278.3,683.0 277.8,662.3 277.3,659.2 276.8,656.4 276.3,656.6 275.8,656.9 275.3,657.1 274.8,657.4 274.3,658.0 273.8,661.7 273.3,668.3 272.8,696.0 272.3,713.5 271.8,714.3 271.3,715.1 270.8,715.7 270.3,714.9 269.8,714.2 269.3,713.4 268.8,696.8 268.3,672.7 267.8,663.0 267.3,660.0 266.8,657.4 266.3,656.7 265.8,655.9 265.3,655.2 264.8,654.5 264.3,642.4 263.8,642.4 263.3,642.4 262.8,642.4 262.3,642.4 261.8,642.4 261.3,642.4 260.8,642.4 260.3,642.4 259.8,642.4 259.3,642.4 258.8,642.4 258.3,642.4 257.8,642.4 257.3,642.4 256.8,642.4 256.3,642.4 255.8,642.4 255.3,642.4 254.8,642.4 254.3,642.4 253.8,642.4 253.3,642.4 252.8,649.2 252.3,650.5 251.8,651.6 251.3,652.3 250.8,653.0 250.3,653.6 249.8,654.1 249.3,654.5 248.8,654.9 248.3,655.3 247.8,655.7 247.3,656.1 246.8,656.4 246.3,656.7 245.8,656.9 245.3,657.2 244.8,657.4 244.3,657.5 243.8,657.2 243.3,657.0 242.8,656.7 242.3,656.5 241.8,656.2 241.3,656.0 240.8,655.7 240.3,655.3 239.8,654.8 239.3,654.3 238.8,653.8 238.3,653.3 237.8,652.9 237.3,652.6 236.8,652.3 236.3,652.1 235.8,652.6 235.3,653.1 234.8,653.6 234.3,654.2 233.8,654.9 233.3,655.5 232.8,656.2 232.3,655.8 231.8,655.2 231.3,654.5 230.8,653.9 230.3,654.2 229.8,654.6 229.3,654.9 228.8,655.2 228.3,655.5 227.8,655.9 227.3,656.2 226.8,655.2 226.3,653.1 225.8,651.0 225.3,653.8 224.8,660.0 224.3,666.2 223.8,672.4 223.3,678.6 222.8,685.2 222.3,692.0 221.8,695.3 221.3,696.4 220.8,697.2 220.3,696.1 219.8,695.1 219.3,694.0 218.8,692.9 218.3,691.8 217.8,690.6 217.3,686.5 216.8,666.6 216.3,654.3 215.8,642.4 215.3,642.4 214.8,642.4 214.3,642.4 213.8,642.4 213.3,642.4 212.8,652.4 212.3,653.2 211.8,655.8 211.3,664.4 210.8,671.7 210.3,674.2 209.8,676.7 209.3,679.4 208.8,682.8 208.3,686.2 207.8,689.7 207.3,691.0 206.8,692.3 206.3,693.7 205.8,701.5 205.3,725.5 204.8,726.1 204.3,726.6 203.8,727.2 203.3,726.9 202.8,726.4 202.3,725.8 201.8,721.0 201.3,706.0 200.8,695.7 200.3,695.4 199.8,695.1 199.3,694.8 198.8,694.0 198.3,693.0 197.8,692.1 197.3,691.1 196.8,691.1 196.3,691.4 195.8,691.6 195.3,691.9 194.8,692.1 194.3,691.3 193.8,690.3 193.3,684.6 192.8,673.5 192.3,672.8 191.8,673.7 191.3,677.1 190.8,677.7 190.3,678.1 189.8,678.5 189.3,678.3 188.8,678.1 188.3,677.8 187.8,677.6 187.3,677.3 186.8,677.2 186.3,677.1 185.8,677.0 185.3,676.9 184.8,676.8 184.3,676.7 183.8,671.9 183.3,665.1 182.8,665.0 182.3,665.0 181.8,665.0 181.3,670.4 180.8,677.5 180.3,683.6 179.8,689.8 179.3,696.0 178.8,702.4 178.3,713.0 177.8,723.1 177.3,732.3 176.8,738.1 176.3,740.9 175.8,742.1 175.3,741.9 174.8,741.7 174.3,741.6 173.8,735.7 173.3,729.2 172.8,729.2 172.3,729.2 171.8,733.1 171.3,739.2 170.8,740.4 170.3,741.7 169.8,742.7 169.3,742.6 168.8,742.5 168.3,742.3 167.8,742.2 167.3,736.5 166.8,727.6 166.3,681.9 165.8,662.1 165.3,657.6 164.8,653.6 164.3,651.6 163.8,649.6 163.3,647.6 162.8,642.4 162.3,642.4 161.8,642.4 161.3,642.4 160.8,642.4 160.3,642.4 159.8,642.4 159.3,642.4 158.8,642.4 158.3,642.4 157.8,642.4 157.3,642.4 156.8,642.4 156.3,642.4 155.8,642.4 155.3,642.4 154.8,642.4 154.3,642.4 153.8,642.4 153.3,642.4 152.8,642.4 152.3,642.4 151.8,642.4 151.3,642.4 150.8,642.4 150.3,642.4 149.8,642.4 149.3,642.4 148.8,642.4" fill="#000" stroke="#000" stroke-width="0.8" stroke-linejoin="round"/>
<polygon points="978.9,638.0 979.4,638.0 979.9,638.0 980.4,638.0 980.9,638.0 981.4,638.0 981.9,638.0 982.4,638.0 982.9,637.9 983.4,637.7 983.9,637.4 984.4,637.3 984.9,637.3 985.4,637.4 985.9,637.5 986.4,637.6 986.9,637.7 987.4,637.8 987.9,637.8 988.4,637.8 988.9,637.8 989.4,637.9 989.9,637.9 990.4,637.9 990.9,638.0 991.4,638.0 991.9,638.0 992.4,638.0 992.9,638.0 993.4,629.4 993.9,627.8 994.4,627.5 994.9,627.6 995.4,627.9 995.9,630.8 996.4,638.0 996.9,638.0 997.4,638.0 997.9,638.0 998.4,638.0 998.9,638.0 999.4,638.0 999.9,638.0 1000.4,638.0 1000.9,638.0 1001.4,638.0 1001.9,638.0 1002.4,638.0 1002.9,638.0 1003.4,638.0 1003.9,638.0 1004.4,638.0 1004.9,638.0 1005.4,638.0 1005.9,638.0 1006.4,638.0 1006.9,638.0 1007.4,638.0 1007.9,638.0 1008.4,638.0 1008.9,638.0 1009.4,638.0 1009.9,638.0 1010.4,634.2 1010.9,632.4 1011.4,632.2 1011.9,632.0 1012.4,632.0 1012.9,632.2 1013.4,632.4 1013.9,635.5 1014.4,638.0 1014.9,638.0 1015.4,638.0 1015.9,638.0 1016.4,638.0 1016.9,638.0 1017.4,638.0 1017.9,638.0 1018.4,638.0 1018.9,638.0 1019.4,638.0 1019.9,638.0 1020.4,638.0 1020.9,638.0 1021.4,638.0 1021.9,638.0 1022.4,638.0 1022.9,638.0 1023.4,638.0 1023.9,638.0 1024.4,638.0 1024.9,638.0 1025.4,638.0 1025.9,638.0 1026.4,638.0 1026.9,638.0 1027.4,638.0 1027.9,638.0 1028.4,638.0 1028.9,638.0 1029.4,638.0 1029.9,638.0 1030.4,638.0 1030.9,638.0 1031.4,638.0 1031.9,638.0 1032.4,638.0 1032.9,638.0 1033.4,638.0 1033.9,638.0 1034.4,638.0 1034.9,638.0 1035.4,638.0 1035.9,638.0 1036.4,638.0 1036.9,638.0 1037.4,638.0 1037.9,638.0 1038.4,638.0 1038.9,634.4 1039.4,629.9 1039.9,629.6 1040.4,629.3 1040.9,629.1 1041.4,629.2 1041.9,629.4 1042.4,629.5 1042.9,629.8 1043.4,630.2 1043.9,630.6 1044.4,631.0 1044.9,631.5 1045.4,632.0 1045.9,632.5 1046.4,633.0 1046.9,633.9 1047.4,634.9 1047.9,635.9 1048.4,636.6 1048.9,637.4 1049.4,637.7 1049.9,637.7 1050.4,637.8 1050.9,637.8 1051.4,637.9 1051.9,638.0 1052.4,635.9 1052.9,628.3 1053.4,628.0 1053.9,627.6 1054.4,627.6 1054.9,627.9 1055.4,628.3 1055.9,631.9 1056.4,634.4 1056.9,634.4 1057.4,634.4 1057.9,634.4 1058.4,632.1 1058.9,629.3 1059.4,629.0 1059.9,628.7 1060.4,628.4 1060.9,628.5 1061.4,628.9 1061.9,629.2 1062.4,630.9 1062.9,633.2 1063.4,633.4 1063.9,633.7 1064.4,634.7 1064.9,636.4 1065.4,638.0 1065.9,638.0 1066.4,638.0 1066.9,638.0 1067.4,638.0 1067.9,638.0 1068.4,638.0 1068.9,638.0 1069.4,638.0 1069.9,638.0 1070.4,638.0 1070.9,638.0 1071.4,638.0 1071.9,638.0 1072.4,638.0 1072.9,638.0 1073.4,638.0 1073.9,638.0 1074.4,638.0 1074.9,638.0 1075.4,638.0 1075.9,638.0 1076.4,638.0 1076.9,638.0 1077.4,638.0 1077.9,638.0 1078.4,638.0 1078.9,638.0 1079.4,638.0 1079.9,638.0 1080.4,632.6 1080.9,630.5 1081.4,630.2 1081.9,630.0 1082.4,630.2 1082.9,630.4 1083.4,632.1 1083.9,636.9 1084.4,638.0 1084.9,638.0 1085.4,638.0 1085.9,638.0 1086.4,638.0 1086.9,638.0 1087.4,638.0 1087.9,638.0 1088.4,638.0 1088.9,637.6 1089.4,637.2 1089.9,636.7 1090.4,636.3 1090.9,635.9 1091.4,635.5 1091.9,635.2 1092.4,634.8 1092.9,634.4 1093.4,634.0 1093.9,633.7 1094.4,633.5 1094.9,633.2 1095.4,633.0 1095.9,632.8 1096.4,632.6 1096.9,632.4 1097.4,632.2 1097.9,632.1 1098.4,632.0 1098.9,631.9 1099.4,633.5 1099.9,636.0 1100.4,637.0 1100.9,637.0 1101.4,637.0 1101.9,637.0 1102.4,637.0 1102.9,635.0 1103.4,631.2 1103.9,630.7 1104.4,630.2 1104.9,629.6 1105.4,629.1 1105.9,628.4 1106.4,627.8 1106.9,627.2 1107.4,626.7 1107.9,626.2 1108.4,627.2 1108.9,628.4 1109.4,629.9 1109.9,632.1 1110.4,633.8 1110.9,633.8 1111.4,633.8 1111.9,633.5 1112.4,633.0 1112.9,632.5 1113.4,632.0 1113.9,632.0 1114.4,632.2 1114.9,632.4 1115.4,632.6 1115.9,634.3 1116.4,636.0 1116.9,637.2 1117.4,637.7 1117.9,638.0 1118.4,638.0 1118.9,638.0 1119.4,638.0 1119.9,638.0 1120.4,638.0 1120.9,638.0 1121.4,638.0 1121.9,638.0 1122.4,638.0 1122.9,638.0 1123.4,638.0 1123.9,638.0 1124.4,638.0 1124.9,638.0 1125.4,638.0 1125.9,638.0 1126.4,638.0 1126.9,638.0 1127.4,638.0 1127.9,638.0 1128.4,638.0 1128.9,638.0 1129.4,638.0 1129.9,638.0 1130.4,638.0 1130.9,638.0 1131.4,638.0 1131.9,638.0 1132.4,638.0 1132.9,638.0 1133.4,638.0 1133.9,636.2 1134.4,634.4 1134.9,634.2 1135.4,634.1 1135.9,634.0 1136.4,633.8 1136.9,633.4 1137.4,633.1 1137.9,632.7 1138.4,632.3 1138.9,631.9 1139.4,632.2 1139.9,632.6 1140.4,633.0 1140.9,634.4 1141.4,636.8 1141.9,638.0 1142.4,638.0 1142.9,638.0 1143.4,638.0 1143.9,638.0 1144.4,638.0 1144.9,638.0 1145.4,638.0 1145.9,638.0 1146.4,638.0 1146.9,638.0 1147.4,638.0 1147.9,638.0 1148.4,638.0 1148.9,638.0 1149.4,637.1 1149.9,631.2 1150.4,630.3 1150.9,629.9 1151.4,629.6 1151.9,629.8 1152.4,631.3 1152.9,632.8 1153.4,633.0 1153.9,632.9 1154.4,632.7 1154.9,632.5 1155.4,632.4 1155.9,632.2 1156.4,632.0 1156.9,631.9 1157.4,632.3 1157.9,632.7 1158.4,633.1 1158.9,633.4 1159.4,633.8 1159.9,633.8 1160.4,633.8 1160.9,633.8 1161.4,633.8 1161.9,633.8 1162.4,633.8 1162.9,634.0 1163.4,634.4 1163.9,634.8 1164.4,635.2 1164.9,635.5 1165.4,635.8 1165.9,635.8 1166.4,635.9 1166.9,636.0 1167.4,636.1 1167.9,636.2 1168.4,636.3 1168.9,636.3 1169.4,636.6 1169.9,636.8 1170.4,637.1 1170.9,637.3 1171.4,637.6 1171.9,637.7 1172.4,637.8 1172.9,637.9 1173.4,638.0 1173.9,638.1 1174.4,638.1 1174.9,638.1 1175.4,638.1 1175.9,638.1 1176.4,638.1 1176.9,638.1 1177.4,638.1 1177.9,638.0 1178.4,638.0 1178.9,638.0 1179.4,638.0 1179.9,638.0 1180.4,638.0 1180.9,636.6 1181.4,633.8 1181.9,633.8 1182.4,633.8 1182.9,633.8 1183.4,634.7 1183.9,637.4 1184.4,638.0 1184.9,638.0 1185.4,638.0 1185.9,638.0 1186.4,638.0 1186.9,638.0 1187.4,638.0 1187.9,638.0 1188.4,638.0 1188.9,638.0 1189.4,638.0 1189.9,638.0 1190.4,638.0 1190.9,638.0 1191.4,638.0 1191.9,638.0 1192.4,638.0 1192.9,632.8 1193.4,628.0 1193.9,627.9 1194.4,627.7 1194.9,627.5 1195.4,627.4 1195.9,627.6 1196.4,627.7 1196.9,627.8 1197.4,627.9 1197.9,628.0 1198.4,628.1 1198.9,628.3 1199.4,628.2 1199.9,628.1 1200.4,628.0 1200.9,627.9 1201.4,627.8 1201.9,627.7 1202.4,627.6 1202.9,627.4 1203.4,628.0 1203.9,628.6 1204.4,629.2 1204.9,629.8 1205.4,630.5 1205.9,631.4 1206.4,632.4 1206.9,633.4 1207.4,634.4 1207.9,633.0 1208.4,631.5 1208.9,630.6 1209.4,630.6 1209.9,630.6 1210.4,631.8 1210.9,635.5 1211.4,638.0 1211.9,638.0 1212.4,638.0 1212.9,638.0 1213.4,638.0 1213.9,638.0 1214.4,638.0 1214.9,638.0 1215.4,638.0 1215.9,636.4 1216.4,632.5 1216.9,632.2 1217.4,632.0 1217.9,632.7 1218.4,634.2 1218.9,635.7 1219.4,636.0 1219.9,636.4 1220.4,636.7 1220.9,637.0 1221.4,637.1 1221.9,637.2 1222.4,637.3 1222.9,637.4 1223.4,637.5 1223.9,637.6 1224.4,637.7 1224.9,637.8 1225.4,637.9 1225.9,638.0 1226.4,638.0 1226.9,637.9 1227.4,637.9 1227.9,637.9 1228.4,637.8 1228.9,637.8 1229.4,637.7 1229.9,637.7 1230.4,637.7 1230.9,637.6 1231.4,637.7 1231.9,637.7 1232.4,637.7 1232.9,637.8 1233.4,637.8 1233.9,637.9 1234.4,637.9 1234.9,638.0 1235.4,638.0 1235.9,638.0 1236.4,637.6 1236.9,630.3 1237.4,628.7 1237.9,628.7 1238.4,628.7 1238.9,628.7 1239.4,634.5 1239.9,638.0 1240.4,638.0 1240.9,638.0 1241.4,638.0 1241.9,638.0 1242.4,638.0 1242.9,638.0 1243.4,638.0 1243.9,636.7 1244.4,635.1 1244.9,634.7 1245.4,634.4 1245.9,634.1 1246.4,633.8 1246.9,633.7 1247.4,633.7 1247.9,633.6 1248.4,633.5 1248.9,633.5 1249.4,633.4 1249.9,633.2 1250.4,633.0 1250.9,632.7 1251.4,632.5 1251.9,632.3 1252.4,632.0 1252.9,631.7 1253.4,631.2 1253.9,630.7 1254.4,630.2 1254.9,630.3 1255.4,630.8 1255.9,631.3 1256.4,631.8 1256.9,631.7 1257.4,631.4 1257.9,631.2 1258.4,630.9 1258.9,630.7 1259.4,630.6 1259.9,630.6 1260.4,630.6 1260.9,630.6 1261.4,630.6 1261.9,630.6 1262.4,630.6 1262.9,630.6 1263.4,630.6 1263.9,630.6 1264.4,630.4 1264.9,630.1 1265.4,629.7 1265.9,629.3 1266.4,628.9 1266.9,628.7 1267.4,628.7 1267.9,628.7 1268.4,628.7 1268.9,629.1 1269.4,630.0 1269.9,630.8 1270.4,631.6 1270.9,633.3 1271.4,635.3 1271.9,637.3 1272.4,638.0 1272.9,638.0 1273.4,638.0 1273.9,638.0 1274.4,638.0 1274.9,638.0 1275.4,630.8 1275.9,626.1 1276.4,626.1 1276.9,626.1 1277.4,626.1 1277.9,626.1 1278.4,627.3 1278.9,630.1 1279.4,631.9 1279.9,631.9 1280.4,631.9 1280.9,631.9 1281.4,631.9 1281.9,631.9 1282.4,632.3 1282.9,632.8 1283.4,633.3 1283.9,633.8 1284.4,634.3 1284.9,634.8 1285.4,635.3 1285.9,635.7 1286.4,636.0 1286.9,636.2 1287.4,636.5 1287.9,636.7 1288.4,637.0 1288.9,637.1 1289.4,637.3 1289.9,637.4 1290.4,637.5 1290.9,637.7 1291.4,637.8 1291.9,637.9 1292.4,638.0 1292.9,638.0 1293.4,638.0 1293.9,638.1 1294.4,638.1 1294.9,638.1 1295.4,638.1 1295.9,638.1 1296.4,638.1 1296.9,638.2 1297.4,638.2 1297.9,638.2 1298.4,638.2 1298.9,638.2 1299.4,638.2 1299.9,638.2 1300.4,638.2 1300.9,638.2 1301.4,638.2 1301.9,638.1 1302.4,638.1 1302.9,638.1 1303.4,638.1 1303.9,638.0 1304.4,638.0 1304.9,638.0 1305.4,637.1 1305.9,634.4 1306.4,633.8 1306.9,633.8 1307.4,633.8 1307.9,633.8 1308.4,634.9 1308.9,637.2 1309.4,638.0 1309.9,638.0 1310.4,638.0 1310.9,638.0 1311.4,638.0 1311.9,638.0 1312.4,638.0 1312.9,638.0 1313.4,638.0 1313.9,638.0 1314.4,638.0 1314.9,638.0 1315.4,638.0 1315.9,638.0 1316.4,638.0 1316.9,638.0 1317.4,638.0 1317.9,638.0 1318.4,638.0 1318.9,638.0 1319.4,638.0 1319.9,638.0 1320.4,638.0 1320.9,638.0 1321.4,638.0 1321.9,638.0 1322.4,638.0 1322.9,638.0 1323.4,638.0 1323.9,638.0 1324.4,638.0 1324.9,638.0 1325.4,638.0 1325.9,638.0 1326.4,638.0 1326.9,638.0 1327.4,638.0 1327.9,638.0 1328.4,638.0 1328.9,638.0 1329.4,638.0 1329.9,638.0 1330.4,638.0 1330.9,638.0 1331.4,638.0 1331.9,638.0 1332.4,638.0 1332.9,638.0 1333.4,638.0 1333.9,638.0 1334.4,638.0 1334.9,638.0 1335.4,638.0 1335.9,638.0 1336.4,638.0 1336.9,638.0 1337.4,638.0 1337.9,638.0 1338.4,638.0 1338.9,638.0 1339.4,638.0 1339.9,638.0 1340.4,638.0 1340.9,638.0 1341.4,638.0 1341.9,638.0 1342.4,638.0 1342.9,638.0 1343.4,638.0 1343.9,638.0 1344.4,638.0 1344.9,638.0 1345.4,638.0 1345.9,637.5 1346.4,635.2 1346.9,633.2 1347.4,633.2 1347.9,633.2 1348.4,633.2 1348.9,633.2 1349.4,633.3 1349.9,636.0 1350.4,638.0 1350.9,638.0 1351.4,638.0 1351.9,638.0 1352.4,638.0 1352.9,638.0 1353.4,638.0 1353.9,638.0 1354.4,638.0 1354.9,638.0 1355.4,638.0 1355.9,638.0 1356.4,638.0 1356.9,638.0 1357.4,638.0 1357.9,638.0 1358.4,638.0 1358.9,638.0 1359.4,638.0 1359.9,638.0 1360.4,638.0 1360.9,638.0 1361.4,638.0 1361.9,638.0 1362.4,638.0 1362.9,638.0 1363.4,638.0 1363.9,638.0 1364.4,638.0 1364.9,638.0 1365.4,638.0 1365.9,638.0 1366.4,638.0 1366.9,638.0 1367.4,638.0 1367.9,638.0 1368.4,638.0 1368.9,638.0 1369.4,638.0 1369.9,638.0 1370.4,638.0 1370.9,638.0 1371.4,638.0 1371.9,638.0 1372.4,638.0 1372.9,638.0 1373.4,636.1 1373.9,630.9 1374.4,628.6 1374.9,628.5 1375.4,628.3 1375.9,628.2 1376.4,628.1 1376.9,628.0 1377.4,627.9 1377.9,627.9 1378.4,627.8 1378.9,627.9 1379.4,628.0 1379.9,628.1 1380.4,628.2 1380.9,628.4 1381.4,629.7 1381.9,630.9 1382.4,632.2 1382.9,633.5 1383.4,634.7 1383.9,636.0 1384.4,636.5 1384.9,636.8 1385.4,637.0 1385.9,637.3 1386.4,637.5 1386.9,637.6 1387.4,637.7 1387.9,637.7 1388.4,637.8 1388.9,637.8 1389.4,637.8 1389.9,637.9 1390.4,637.9 1390.9,637.9 1391.4,638.0 1391.9,637.9 1392.4,637.7 1392.9,637.5 1393.4,637.3 1393.9,637.1 1394.4,636.9 1394.9,636.5 1395.4,636.1 1395.9,635.8 1396.4,635.4 1396.9,635.0 1397.4,634.8 1397.9,634.6 1398.4,634.4 1398.9,634.2 1399.4,634.0 1399.9,633.8 1400.4,633.4 1400.9,633.3 1401.4,633.2 1401.9,633.0 1402.4,632.8 1402.9,632.6 1403.4,632.4 1403.9,632.2 1404.4,632.0 1404.9,632.0 1405.4,632.1 1405.9,632.3 1406.4,632.5 1406.9,634.8 1407.4,638.0 1407.9,638.0 1408.4,638.0 1408.9,638.0 1409.4,638.0 1409.9,638.0 1410.4,638.0 1410.9,638.0 1411.4,638.0 1411.9,638.0 1412.4,638.0 1412.9,638.0 1413.4,638.0 1413.9,638.0 1414.4,638.0 1414.9,638.0 1415.4,638.0 1415.9,638.0 1416.4,638.0 1416.9,633.9 1417.4,628.3 1417.9,627.9 1418.4,627.8 1418.9,627.7 1419.4,627.6 1419.9,627.4 1420.4,629.3 1420.9,631.6 1421.4,633.3 1421.9,633.6 1422.4,633.9 1422.9,634.3 1423.4,635.1 1423.9,636.5 1424.4,637.9 1424.9,638.0 1425.4,638.0 1425.9,638.0 1426.4,637.5 1426.9,632.6 1427.4,629.1 1427.9,628.6 1428.4,628.0 1428.9,627.4 1429.4,627.4 1429.9,627.4 1430.4,627.4 1430.9,627.6 1431.4,628.8 1431.9,630.0 1432.4,631.1 1432.9,631.1 1433.4,628.8 1433.9,626.6 1434.4,626.0 1434.9,625.9 1435.4,625.7 1435.9,625.6 1436.4,626.4 1436.9,628.4 1437.4,630.4 1437.9,632.0 1438.4,633.6 1438.9,635.1 1439.4,634.7 1439.9,632.9 1440.4,631.2 1440.9,630.9 1441.4,630.6 1441.9,630.3 1442.4,630.1 1442.9,630.4 1443.4,631.0 1443.9,631.5 1444.4,633.2 1444.9,636.6 1445.4,638.0 1445.9,638.0 1446.4,638.0 1446.9,638.0 1447.4,638.0 1447.9,638.0 1448.4,638.0 1448.9,638.0 1449.4,638.0 1449.9,638.0 1450.4,638.0 1450.9,638.0 1451.4,637.4 1451.9,635.6 1452.4,634.3 1452.9,633.8 1453.4,633.4 1453.9,633.0 1454.4,632.5 1454.9,631.9 1455.4,631.2 1455.9,630.5 1456.4,630.0 1456.9,630.2 1457.4,630.3 1457.9,630.5 1458.4,631.6 1458.9,634.5 1459.4,637.4 1459.9,638.0 1460.4,638.0 1460.9,638.0 1461.4,638.0 1461.9,638.0 1462.4,638.0 1462.9,638.0 1463.4,638.0 1463.9,638.0 1464.4,638.0 1464.9,638.0 1465.4,638.0 1465.9,638.0 1466.4,638.0 1466.9,638.0 1467.4,638.0 1467.9,638.0 1468.4,638.0 1468.9,638.0 1469.4,638.0 1469.9,638.0 1470.4,638.0 1470.9,638.0 1471.4,633.7 1471.9,628.7 1472.4,628.6 1472.9,628.5 1473.4,628.4 1473.9,628.4 1474.4,628.7 1474.9,629.7 1475.4,630.6 1475.9,631.5 1476.4,631.7 1476.9,631.5 1477.4,631.2 1477.9,631.0 1478.4,630.7 1478.9,630.4 1479.4,630.0 1479.9,629.7 1480.4,629.3 1480.9,628.9 1481.4,628.9 1481.9,629.4 1482.4,629.9 1482.9,630.4 1483.4,631.4 1483.9,632.6 1484.4,633.9 1484.9,635.2 1485.4,636.6 1485.9,638.0 1486.4,638.0 1486.9,638.0 1487.4,638.0 1487.9,638.0 1488.4,638.0 1488.9,637.6 1489.4,634.3 1489.9,633.8 1490.4,633.8 1490.9,633.8 1491.4,633.8 1491.9,634.4 1492.4,636.7 1492.9,638.0 1493.4,638.0 1493.9,638.0 1494.4,638.0 1494.9,638.0 1495.4,638.0 1495.9,637.6 1496.4,632.7 1496.9,628.1 1497.4,627.8 1497.9,627.6 1498.4,627.4 1498.9,627.8 1499.4,628.2 1499.9,628.7 1500.4,630.8 1500.9,633.0 1501.4,634.8 1501.9,635.8 1502.4,636.7 1502.9,637.6 1503.4,637.7 1503.9,637.7 1504.4,637.8 1504.9,637.8 1505.4,637.8 1505.9,637.9 1506.4,637.9 1506.9,638.0 1507.4,638.0 1507.9,638.0 1508.4,638.0 1508.9,638.0 1509.4,638.1 1509.9,638.1 1510.4,638.1 1510.9,638.1 1511.4,638.1 1511.9,638.1 1512.4,638.1 1512.9,638.1 1513.4,638.2 1513.9,638.2 1514.4,638.2 1514.9,638.2 1515.4,638.2 1515.9,638.2 1516.4,638.2 1516.9,638.2 1517.4,638.2 1517.9,638.2 1518.4,638.2 1518.9,638.2 1519.4,638.2 1519.9,638.2 1520.4,638.1 1520.9,638.1 1521.4,638.1 1521.9,638.1 1522.4,638.1 1522.9,638.0 1523.4,638.0 1523.9,638.0 1524.4,638.0 1524.9,638.0 1525.4,638.0 1525.9,638.0 1526.4,638.0 1526.9,638.0 1527.4,638.0 1527.9,638.0 1528.4,638.0 1528.9,638.0 1529.4,638.0 1529.9,638.0 1530.4,638.0 1530.9,638.0 1531.4,638.0 1531.9,638.0 1532.4,638.0 1532.9,638.0 1533.4,638.0 1533.9,638.0 1534.4,638.0 1534.9,638.0 1535.4,638.0 1535.9,638.0 1536.4,638.0 1536.9,638.0 1537.4,638.0 1537.9,638.0 1538.4,638.0 1538.9,638.0 1539.4,638.0 1539.9,638.0 1540.4,638.0 1540.9,638.0 1541.4,638.0 1541.9,638.0 1542.4,638.0 1542.9,638.0 1543.4,638.0 1543.9,638.0 1544.4,638.0 1544.9,638.0 1545.4,638.0 1545.9,638.0 1546.4,638.0 1546.9,638.0 1547.4,638.0 1547.9,638.0 1548.4,638.0 1548.9,638.0 1549.4,636.4 1549.9,633.0 1550.4,629.6 1550.9,628.8 1551.4,628.3 1551.9,627.8 1552.4,627.3 1552.9,627.0 1553.4,627.0 1553.9,627.0 1554.4,627.0 1554.9,627.0 1555.4,627.0 1555.9,627.1 1556.4,627.3 1556.9,627.5 1557.4,627.7 1557.9,627.9 1558.4,628.0 1558.9,627.9 1559.4,627.7 1559.9,627.6 1560.4,627.4 1560.9,627.2 1561.4,627.1 1561.9,627.1 1562.4,627.1 1562.9,627.2 1563.4,627.2 1563.9,627.3 1564.4,627.3 1564.9,627.4 1565.4,627.4 1565.9,627.8 1566.4,628.1 1566.9,628.4 1567.4,629.1 1567.9,630.9 1568.4,632.6 1568.9,634.4 1569.4,636.1 1569.9,637.4 1570.4,635.6 1570.9,633.9 1571.4,632.9 1571.9,632.4 1572.4,631.9 1572.9,631.4 1573.4,631.5 1573.9,631.8 1574.4,632.2 1574.9,632.5 1575.4,632.4 1575.9,632.2 1576.4,632.0 1576.9,631.8 1577.4,631.5 1577.9,631.1 1578.4,630.7 1578.9,630.5 1579.4,630.3 1579.9,630.1 1580.4,630.1 1580.9,630.7 1581.4,631.3 1581.9,631.8 1582.4,632.8 1582.9,633.8 1583.4,634.8 1583.9,635.7 1584.4,636.6 1584.9,637.6 1585.4,637.9 1585.9,637.6 1586.4,637.3 1586.9,637.1 1587.4,635.9 1587.9,634.4 1588.4,633.2 1588.9,633.2 1589.4,633.2 1589.9,633.2 1590.4,633.6 1590.9,634.8 1591.4,636.1 1591.9,636.5 1592.4,634.8 1592.9,633.0 1593.4,631.3 1593.9,631.0 1594.4,630.7 1594.9,630.4 1595.4,630.1 1595.9,630.8 1596.4,632.1 1596.9,633.5 1597.4,634.5 1597.9,634.9 1598.4,635.2 1598.9,635.5 1599.4,635.8 1599.9,636.0 1600.4,636.1 1600.9,636.3 1601.4,636.2 1601.9,636.1 1602.4,635.9 1602.9,635.7 1603.4,635.1 1603.9,634.3 1604.4,633.6 1604.9,629.5 1605.4,625.5 1605.9,625.4 1606.4,625.3 1606.9,626.3 1607.4,632.1 1607.9,634.6 1608.4,635.3 1608.9,636.0 1609.4,636.8 1609.9,637.6 1610.4,638.3 1610.9,639.1 1611.4,639.8 1611.4,640.8 1610.9,641.5 1610.4,642.3 1609.9,643.0 1609.4,643.8 1608.9,644.6 1608.4,645.4 1607.9,646.2 1607.4,646.9 1606.9,647.4 1606.4,647.4 1605.9,647.3 1605.4,647.2 1604.9,646.9 1604.4,646.5 1603.9,646.0 1603.4,645.6 1602.9,645.2 1602.4,645.1 1601.9,644.9 1601.4,644.8 1600.9,644.6 1600.4,644.6 1599.9,644.6 1599.4,644.6 1598.9,644.9 1598.4,645.4 1597.9,645.9 1597.4,646.4 1596.9,646.8 1596.4,647.2 1595.9,647.6 1595.4,647.8 1594.9,647.6 1594.4,647.5 1593.9,647.3 1593.4,647.2 1592.9,646.8 1592.4,646.4 1591.9,646.0 1591.4,646.4 1590.9,647.0 1590.4,647.6 1589.9,647.7 1589.4,647.6 1588.9,647.4 1588.4,647.2 1587.9,646.4 1587.4,645.4 1586.9,644.5 1586.4,643.9 1585.9,643.3 1585.4,642.8 1584.9,642.7 1584.4,643.3 1583.9,643.9 1583.4,644.4 1582.9,646.2 1582.4,648.7 1581.9,651.1 1581.4,652.0 1580.9,653.0 1580.4,654.0 1579.9,654.1 1579.4,653.9 1578.9,653.7 1578.4,653.3 1577.9,652.0 1577.4,650.6 1576.9,649.3 1576.4,648.7 1575.9,648.2 1575.4,647.7 1574.9,647.2 1574.4,647.5 1573.9,647.9 1573.4,648.2 1572.9,648.4 1572.4,648.1 1571.9,647.7 1571.4,647.4 1570.9,646.6 1570.4,645.1 1569.9,643.6 1569.4,644.6 1568.9,646.1 1568.4,647.3 1567.9,647.8 1567.4,648.3 1566.9,648.6 1566.4,648.8 1565.9,648.9 1565.4,649.1 1564.9,649.1 1564.4,649.2 1563.9,649.2 1563.4,649.3 1562.9,649.3 1562.4,649.4 1561.9,649.4 1561.4,649.5 1560.9,649.4 1560.4,649.3 1559.9,649.3 1559.4,649.2 1558.9,649.2 1558.4,649.1 1557.9,649.1 1557.4,649.1 1556.9,649.1 1556.4,649.1 1555.9,649.1 1555.4,649.0 1554.9,648.9 1554.4,648.8 1553.9,648.7 1553.4,648.6 1552.9,648.5 1552.4,648.3 1551.9,648.0 1551.4,647.8 1550.9,647.5 1550.4,647.0 1549.9,645.2 1549.4,643.3 1548.9,642.5 1548.4,642.5 1547.9,642.5 1547.4,642.5 1546.9,642.4 1546.4,642.4 1545.9,642.4 1545.4,642.4 1544.9,642.4 1544.4,642.4 1543.9,642.4 1543.4,642.4 1542.9,642.4 1542.4,642.4 1541.9,642.4 1541.4,642.4 1540.9,642.4 1540.4,642.4 1539.9,642.4 1539.4,642.4 1538.9,642.4 1538.4,642.4 1537.9,642.4 1537.4,642.4 1536.9,642.4 1536.4,642.4 1535.9,642.4 1535.4,642.4 1534.9,642.4 1534.4,642.4 1533.9,642.4 1533.4,642.4 1532.9,642.4 1532.4,642.4 1531.9,642.4 1531.4,642.4 1530.9,642.4 1530.4,642.4 1529.9,642.4 1529.4,642.4 1528.9,642.4 1528.4,642.4 1527.9,642.4 1527.4,642.4 1526.9,642.4 1526.4,642.4 1525.9,642.4 1525.4,642.4 1524.9,642.4 1524.4,642.4 1523.9,642.4 1523.4,642.4 1522.9,642.4 1522.4,642.4 1521.9,642.4 1521.4,642.4 1520.9,642.5 1520.4,642.5 1519.9,642.5 1519.4,642.6 1518.9,642.6 1518.4,642.7 1517.9,642.7 1517.4,642.7 1516.9,642.8 1516.4,642.8 1515.9,642.8 1515.4,642.9 1514.9,642.9 1514.4,642.9 1513.9,642.9 1513.4,643.0 1512.9,643.0 1512.4,643.0 1511.9,643.1 1511.4,643.1 1510.9,643.1 1510.4,643.2 1509.9,643.2 1509.4,643.2 1508.9,643.3 1508.4,643.3 1507.9,643.3 1507.4,643.4 1506.9,643.4 1506.4,643.5 1505.9,643.6 1505.4,643.6 1504.9,643.7 1504.4,643.8 1503.9,643.9 1503.4,643.9 1502.9,644.0 1502.4,646.0 1501.9,648.1 1501.4,650.2 1500.9,652.3 1500.4,654.3 1499.9,656.2 1499.4,657.0 1498.9,657.9 1498.4,658.7 1497.9,657.8 1497.4,657.0 1496.9,656.2 1496.4,649.7 1495.9,643.0 1495.4,642.5 1494.9,642.5 1494.4,642.5 1493.9,642.5 1493.4,642.5 1492.9,642.5 1492.4,643.7 1491.9,646.0 1491.4,646.5 1490.9,646.5 1490.4,646.5 1489.9,646.5 1489.4,646.0 1488.9,642.9 1488.4,642.5 1487.9,642.5 1487.4,642.5 1486.9,642.5 1486.4,642.5 1485.9,642.5 1485.4,643.8 1484.9,645.2 1484.4,646.3 1483.9,647.1 1483.4,648.0 1482.9,648.6 1482.4,648.8 1481.9,649.1 1481.4,649.4 1480.9,649.4 1480.4,649.4 1479.9,649.3 1479.4,649.2 1478.9,649.1 1478.4,649.0 1477.9,648.9 1477.4,648.8 1476.9,648.7 1476.4,648.5 1475.9,648.4 1475.4,648.2 1474.9,648.1 1474.4,647.9 1473.9,647.7 1473.4,647.4 1472.9,647.1 1472.4,646.8 1471.9,646.6 1471.4,644.3 1470.9,642.5 1470.4,642.5 1469.9,642.5 1469.4,642.5 1468.9,642.5 1468.4,642.5 1467.9,642.5 1467.4,642.5 1466.9,642.5 1466.4,642.5 1465.9,642.5 1465.4,642.5 1464.9,642.5 1464.4,642.5 1463.9,642.5 1463.4,642.5 1462.9,642.5 1462.4,642.5 1461.9,642.5 1461.4,642.5 1460.9,642.5 1460.4,642.5 1459.9,642.5 1459.4,642.9 1458.9,644.7 1458.4,646.6 1457.9,647.4 1457.4,647.6 1456.9,647.9 1456.4,648.2 1455.9,648.3 1455.4,648.3 1454.9,648.4 1454.4,648.5 1453.9,648.3 1453.4,648.2 1452.9,648.0 1452.4,647.9 1451.9,646.0 1451.4,643.4 1450.9,642.5 1450.4,642.5 1449.9,642.5 1449.4,642.5 1448.9,642.5 1448.4,642.5 1447.9,642.5 1447.4,642.5 1446.9,642.5 1446.4,642.5 1445.9,642.5 1445.4,642.5 1444.9,643.4 1444.4,645.6 1443.9,646.9 1443.4,647.5 1442.9,648.0 1442.4,648.4 1441.9,648.3 1441.4,648.1 1440.9,648.0 1440.4,647.8 1439.9,646.6 1439.4,645.4 1438.9,644.8 1438.4,645.2 1437.9,645.6 1437.4,645.9 1436.9,646.2 1436.4,646.4 1435.9,646.6 1435.4,646.8 1434.9,646.9 1434.4,647.1 1433.9,647.3 1433.4,647.8 1432.9,648.3 1432.4,648.9 1431.9,649.6 1431.4,650.2 1430.9,650.9 1430.4,651.1 1429.9,651.3 1429.4,651.5 1428.9,651.6 1428.4,651.5 1427.9,651.3 1427.4,651.1 1426.9,647.7 1426.4,642.9 1425.9,642.5 1425.4,642.5 1424.9,642.5 1424.4,642.6 1423.9,643.9 1423.4,645.3 1422.9,646.2 1422.4,646.7 1421.9,647.2 1421.4,647.7 1420.9,647.8 1420.4,647.8 1419.9,647.8 1419.4,647.4 1418.9,647.0 1418.4,646.6 1417.9,646.3 1417.4,645.8 1416.9,643.9 1416.4,642.5 1415.9,642.5 1415.4,642.5 1414.9,642.5 1414.4,642.5 1413.9,642.5 1413.4,642.5 1412.9,642.5 1412.4,642.5 1411.9,642.5 1411.4,642.5 1410.9,642.5 1410.4,642.5 1409.9,642.5 1409.4,642.5 1408.9,642.5 1408.4,642.5 1407.9,642.5 1407.4,642.5 1406.9,646.3 1406.4,649.2 1405.9,649.3 1405.4,649.5 1404.9,649.7 1404.4,649.5 1403.9,649.1 1403.4,648.7 1402.9,648.3 1402.4,647.9 1401.9,647.5 1401.4,647.2 1400.9,646.9 1400.4,646.6 1399.9,646.0 1399.4,645.7 1398.9,645.5 1398.4,645.3 1397.9,645.1 1397.4,644.9 1396.9,644.7 1396.4,644.4 1395.9,644.2 1395.4,643.9 1394.9,643.7 1394.4,643.4 1393.9,643.2 1393.4,643.1 1392.9,642.9 1392.4,642.7 1391.9,642.5 1391.4,642.5 1390.9,642.5 1390.4,642.5 1389.9,642.6 1389.4,642.6 1388.9,642.6 1388.4,642.6 1387.9,642.7 1387.4,642.7 1386.9,642.7 1386.4,642.8 1385.9,642.9 1385.4,643.0 1384.9,643.1 1384.4,643.3 1383.9,643.5 1383.4,644.0 1382.9,644.5 1382.4,645.1 1381.9,645.8 1381.4,646.5 1380.9,647.1 1380.4,647.5 1379.9,647.9 1379.4,648.3 1378.9,648.7 1378.4,649.0 1377.9,649.0 1377.4,648.8 1376.9,648.6 1376.4,648.4 1375.9,647.9 1375.4,647.3 1374.9,646.8 1374.4,646.2 1373.9,645.1 1373.4,643.2 1372.9,642.5 1372.4,642.5 1371.9,642.5 1371.4,642.5 1370.9,642.5 1370.4,642.5 1369.9,642.5 1369.4,642.5 1368.9,642.5 1368.4,642.5 1367.9,642.5 1367.4,642.5 1366.9,642.5 1366.4,642.5 1365.9,642.5 1365.4,642.5 1364.9,642.5 1364.4,642.5 1363.9,642.5 1363.4,642.5 1362.9,642.5 1362.4,642.5 1361.9,642.5 1361.4,642.5 1360.9,642.5 1360.4,642.5 1359.9,642.5 1359.4,642.5 1358.9,642.5 1358.4,642.5 1357.9,642.5 1357.4,642.5 1356.9,642.5 1356.4,642.5 1355.9,642.5 1355.4,642.5 1354.9,642.5 1354.4,642.5 1353.9,642.5 1353.4,642.5 1352.9,642.5 1352.4,642.5 1351.9,642.5 1351.4,642.5 1350.9,642.5 1350.4,642.5 1349.9,645.2 1349.4,648.9 1348.9,649.1 1348.4,649.1 1347.9,649.1 1347.4,649.1 1346.9,649.1 1346.4,646.4 1345.9,643.1 1345.4,642.5 1344.9,642.5 1344.4,642.5 1343.9,642.5 1343.4,642.5 1342.9,642.5 1342.4,642.5 1341.9,642.5 1341.4,642.5 1340.9,642.5 1340.4,642.5 1339.9,642.5 1339.4,642.5 1338.9,642.5 1338.4,642.5 1337.9,642.5 1337.4,642.5 1336.9,642.5 1336.4,642.5 1335.9,642.5 1335.4,642.5 1334.9,642.5 1334.4,642.5 1333.9,642.5 1333.4,642.5 1332.9,642.5 1332.4,642.5 1331.9,642.5 1331.4,642.5 1330.9,642.5 1330.4,642.5 1329.9,642.5 1329.4,642.5 1328.9,642.5 1328.4,642.5 1327.9,642.5 1327.4,642.5 1326.9,642.5 1326.4,642.5 1325.9,642.5 1325.4,642.5 1324.9,642.5 1324.4,642.5 1323.9,642.5 1323.4,642.5 1322.9,642.5 1322.4,642.5 1321.9,642.5 1321.4,642.5 1320.9,642.5 1320.4,642.5 1319.9,642.5 1319.4,642.5 1318.9,642.5 1318.4,642.5 1317.9,642.5 1317.4,642.5 1316.9,642.5 1316.4,642.5 1315.9,642.5 1315.4,642.5 1314.9,642.5 1314.4,642.5 1313.9,642.5 1313.4,642.5 1312.9,642.5 1312.4,642.5 1311.9,642.5 1311.4,642.5 1310.9,642.5 1310.4,642.5 1309.9,642.5 1309.4,642.5 1308.9,643.6 1308.4,646.9 1307.9,648.5 1307.4,648.5 1306.9,648.5 1306.4,648.5 1305.9,647.6 1305.4,643.7 1304.9,642.5 1304.4,642.5 1303.9,642.5 1303.4,642.5 1302.9,642.6 1302.4,642.6 1301.9,642.6 1301.4,642.6 1300.9,642.7 1300.4,642.7 1299.9,642.7 1299.4,642.7 1298.9,642.8 1298.4,642.8 1297.9,642.8 1297.4,642.8 1296.9,642.9 1296.4,642.9 1295.9,642.9 1295.4,642.9 1294.9,643.0 1294.4,643.0 1293.9,643.0 1293.4,643.1 1292.9,643.1 1292.4,643.1 1291.9,643.2 1291.4,643.3 1290.9,643.4 1290.4,643.5 1289.9,643.7 1289.4,643.8 1288.9,643.9 1288.4,644.0 1287.9,644.4 1287.4,644.8 1286.9,645.1 1286.4,645.5 1285.9,645.9 1285.4,646.4 1284.9,646.9 1284.4,647.4 1283.9,647.9 1283.4,648.2 1282.9,648.5 1282.4,648.9 1281.9,649.1 1281.4,649.2 1280.9,649.4 1280.4,649.5 1279.9,649.6 1279.4,649.7 1278.9,649.7 1278.4,649.7 1277.9,649.7 1277.4,649.5 1276.9,649.4 1276.4,649.3 1275.9,649.2 1275.4,646.5 1274.9,642.5 1274.4,642.5 1273.9,642.6 1273.4,642.6 1272.9,642.7 1272.4,642.7 1271.9,643.4 1271.4,645.3 1270.9,647.1 1270.4,648.6 1269.9,649.1 1269.4,649.6 1268.9,650.1 1268.4,650.4 1267.9,650.4 1267.4,650.4 1266.9,650.4 1266.4,650.5 1265.9,650.6 1265.4,650.7 1264.9,650.8 1264.4,651.0 1263.9,651.1 1263.4,651.2 1262.9,651.3 1262.4,651.5 1261.9,651.6 1261.4,651.5 1260.9,651.3 1260.4,651.0 1259.9,650.8 1259.4,650.5 1258.9,650.3 1258.4,650.0 1257.9,649.8 1257.4,649.5 1256.9,649.3 1256.4,649.1 1255.9,649.1 1255.4,649.1 1254.9,649.1 1254.4,649.2 1253.9,649.3 1253.4,649.5 1252.9,649.7 1252.4,649.7 1251.9,649.7 1251.4,649.7 1250.9,649.7 1250.4,649.7 1249.9,649.7 1249.4,649.7 1248.9,649.6 1248.4,649.5 1247.9,649.4 1247.4,649.3 1246.9,649.2 1246.4,649.1 1245.9,648.7 1245.4,648.2 1244.9,647.7 1244.4,647.1 1243.9,644.5 1243.4,642.5 1242.9,642.5 1242.4,642.5 1241.9,642.5 1241.4,642.5 1240.9,642.5 1240.4,642.5 1239.9,642.5 1239.4,645.0 1238.9,649.1 1238.4,649.1 1237.9,649.1 1237.4,649.1 1236.9,648.0 1236.4,642.8 1235.9,642.5 1235.4,642.5 1234.9,642.5 1234.4,642.5 1233.9,642.6 1233.4,642.6 1232.9,642.6 1232.4,642.6 1231.9,642.7 1231.4,642.7 1230.9,642.7 1230.4,642.7 1229.9,642.7 1229.4,642.7 1228.9,642.7 1228.4,642.7 1227.9,642.7 1227.4,642.7 1226.9,642.7 1226.4,642.7 1225.9,642.7 1225.4,642.8 1224.9,642.8 1224.4,642.9 1223.9,643.0 1223.4,643.0 1222.9,643.1 1222.4,643.2 1221.9,643.2 1221.4,643.3 1220.9,643.3 1220.4,643.6 1219.9,644.0 1219.4,644.3 1218.9,644.6 1218.4,645.6 1217.9,646.6 1217.4,647.1 1216.9,646.8 1216.4,646.6 1215.9,643.7 1215.4,642.5 1214.9,642.5 1214.4,642.5 1213.9,642.5 1213.4,642.5 1212.9,642.5 1212.4,642.5 1211.9,642.5 1211.4,642.5 1210.9,645.0 1210.4,648.5 1209.9,649.6 1209.4,649.4 1208.9,649.2 1208.4,649.0 1207.9,648.7 1207.4,648.5 1206.9,648.6 1206.4,648.8 1205.9,649.0 1205.4,649.1 1204.9,649.1 1204.4,649.1 1203.9,649.1 1203.4,649.1 1202.9,649.1 1202.4,649.1 1201.9,649.1 1201.4,649.1 1200.9,649.1 1200.4,649.1 1199.9,649.1 1199.4,649.1 1198.9,649.1 1198.4,649.0 1197.9,648.9 1197.4,648.8 1196.9,648.7 1196.4,648.6 1195.9,648.6 1195.4,648.5 1194.9,648.3 1194.4,648.2 1193.9,648.0 1193.4,647.9 1192.9,645.3 1192.4,642.5 1191.9,642.5 1191.4,642.5 1190.9,642.5 1190.4,642.5 1189.9,642.5 1189.4,642.5 1188.9,642.5 1188.4,642.5 1187.9,642.5 1187.4,642.5 1186.9,642.5 1186.4,642.5 1185.9,642.5 1185.4,642.5 1184.9,642.5 1184.4,642.5 1183.9,642.7 1183.4,643.7 1182.9,644.0 1182.4,644.0 1181.9,644.0 1181.4,644.0 1180.9,643.1 1180.4,642.7 1179.9,642.7 1179.4,642.7 1178.9,642.7 1178.4,642.7 1177.9,642.7 1177.4,642.7 1176.9,642.7 1176.4,642.7 1175.9,642.7 1175.4,642.7 1174.9,642.7 1174.4,642.7 1173.9,642.8 1173.4,642.9 1172.9,643.0 1172.4,643.1 1171.9,643.3 1171.4,643.4 1170.9,643.5 1170.4,643.6 1169.9,643.8 1169.4,643.9 1168.9,644.0 1168.4,644.1 1167.9,644.2 1167.4,644.3 1166.9,644.3 1166.4,644.4 1165.9,644.5 1165.4,644.6 1164.9,644.8 1164.4,645.0 1163.9,645.3 1163.4,645.5 1162.9,645.8 1162.4,646.0 1161.9,646.2 1161.4,646.4 1160.9,646.6 1160.4,646.8 1159.9,647.0 1159.4,647.2 1158.9,647.4 1158.4,647.7 1157.9,647.9 1157.4,648.2 1156.9,648.4 1156.4,648.2 1155.9,647.8 1155.4,647.5 1154.9,647.2 1154.4,646.8 1153.9,646.5 1153.4,646.2 1152.9,646.1 1152.4,647.1 1151.9,648.1 1151.4,648.3 1150.9,648.2 1150.4,648.0 1149.9,647.4 1149.4,643.2 1148.9,642.5 1148.4,642.5 1147.9,642.5 1147.4,642.5 1146.9,642.5 1146.4,642.5 1145.9,642.5 1145.4,642.5 1144.9,642.5 1144.4,642.5 1143.9,642.5 1143.4,642.5 1142.9,642.5 1142.4,642.5 1141.9,642.5 1141.4,644.0 1140.9,646.9 1140.4,648.7 1139.9,649.3 1139.4,649.9 1138.9,650.3 1138.4,649.8 1137.9,649.3 1137.4,648.8 1136.9,648.3 1136.4,647.8 1135.9,647.7 1135.4,647.5 1134.9,647.4 1134.4,647.2 1133.9,644.9 1133.4,642.5 1132.9,642.5 1132.4,642.5 1131.9,642.5 1131.4,642.5 1130.9,642.5 1130.4,642.5 1129.9,642.5 1129.4,642.5 1128.9,642.5 1128.4,642.5 1127.9,642.5 1127.4,642.5 1126.9,642.5 1126.4,642.5 1125.9,642.5 1125.4,642.5 1124.9,642.5 1124.4,642.5 1123.9,642.5 1123.4,642.5 1122.9,642.5 1122.4,642.5 1121.9,642.5 1121.4,642.5 1120.9,642.5 1120.4,642.5 1119.9,642.5 1119.4,642.5 1118.9,642.5 1118.4,642.5 1117.9,642.5 1117.4,642.7 1116.9,643.2 1116.4,644.2 1115.9,645.7 1115.4,647.2 1114.9,647.0 1114.4,646.9 1113.9,646.7 1113.4,646.5 1112.9,646.0 1112.4,645.6 1111.9,645.2 1111.4,644.9 1110.9,644.8 1110.4,644.7 1109.9,645.1 1109.4,645.7 1108.9,646.6 1108.4,647.6 1107.9,648.6 1107.4,649.6 1106.9,650.6 1106.4,652.2 1105.9,654.1 1105.4,656.0 1104.9,656.2 1104.4,655.3 1103.9,654.5 1103.4,653.6 1102.9,647.3 1102.4,643.9 1101.9,643.8 1101.4,643.7 1100.9,643.6 1100.4,643.4 1099.9,644.4 1099.4,647.2 1098.9,649.1 1098.4,649.1 1097.9,649.1 1097.4,649.1 1096.9,648.9 1096.4,648.7 1095.9,648.6 1095.4,648.1 1094.9,647.3 1094.4,646.4 1093.9,645.6 1093.4,645.1 1092.9,644.9 1092.4,644.6 1091.9,644.4 1091.4,644.1 1090.9,643.9 1090.4,643.6 1089.9,643.3 1089.4,643.0 1088.9,642.8 1088.4,642.5 1087.9,642.5 1087.4,642.5 1086.9,642.5 1086.4,642.5 1085.9,642.5 1085.4,642.5 1084.9,642.5 1084.4,642.5 1083.9,643.3 1083.4,646.8 1082.9,648.0 1082.4,648.3 1081.9,648.4 1081.4,648.2 1080.9,648.0 1080.4,646.4 1079.9,642.5 1079.4,642.5 1078.9,642.5 1078.4,642.5 1077.9,642.5 1077.4,642.5 1076.9,642.5 1076.4,642.5 1075.9,642.5 1075.4,642.5 1074.9,642.5 1074.4,642.5 1073.9,642.5 1073.4,642.5 1072.9,642.5 1072.4,642.5 1071.9,642.5 1071.4,642.5 1070.9,642.5 1070.4,642.5 1069.9,642.5 1069.4,642.5 1068.9,642.5 1068.4,642.5 1067.9,642.5 1067.4,642.5 1066.9,642.5 1066.4,642.5 1065.9,642.5 1065.4,642.5 1064.9,643.3 1064.4,644.2 1063.9,644.9 1063.4,645.4 1062.9,645.9 1062.4,648.1 1061.9,649.9 1061.4,650.3 1060.9,650.7 1060.4,651.0 1059.9,650.8 1059.4,650.6 1058.9,650.4 1058.4,647.9 1057.9,645.9 1057.4,645.9 1056.9,645.9 1056.4,645.9 1055.9,646.4 1055.4,647.2 1054.9,647.5 1054.4,647.7 1053.9,647.7 1053.4,647.4 1052.9,647.2 1052.4,643.5 1051.9,642.5 1051.4,642.5 1050.9,642.6 1050.4,642.6 1049.9,642.7 1049.4,642.7 1048.9,643.0 1048.4,643.7 1047.9,644.5 1047.4,645.0 1046.9,645.5 1046.4,646.0 1045.9,646.5 1045.4,647.0 1044.9,647.7 1044.4,648.5 1043.9,649.2 1043.4,649.7 1042.9,650.2 1042.4,650.4 1041.9,650.4 1041.4,650.4 1040.9,650.4 1040.4,650.2 1039.9,650.0 1039.4,649.8 1038.9,645.8 1038.4,642.5 1037.9,642.5 1037.4,642.5 1036.9,642.5 1036.4,642.5 1035.9,642.5 1035.4,642.5 1034.9,642.5 1034.4,642.5 1033.9,642.5 1033.4,642.5 1032.9,642.5 1032.4,642.5 1031.9,642.5 1031.4,642.5 1030.9,642.5 1030.4,642.5 1029.9,642.5 1029.4,642.5 1028.9,642.5 1028.4,642.5 1027.9,642.5 1027.4,642.5 1026.9,642.5 1026.4,642.5 1025.9,642.5 1025.4,642.5 1024.9,642.5 1024.4,642.5 1023.9,642.5 1023.4,642.5 1022.9,642.5 1022.4,642.5 1021.9,642.5 1021.4,642.5 1020.9,642.5 1020.4,642.5 1019.9,642.5 1019.4,642.5 1018.9,642.5 1018.4,642.5 1017.9,642.5 1017.4,642.5 1016.9,642.5 1016.4,642.5 1015.9,642.5 1015.4,642.5 1014.9,642.5 1014.4,642.5 1013.9,645.2 1013.4,648.6 1012.9,648.8 1012.4,649.0 1011.9,649.0 1011.4,648.8 1010.9,648.6 1010.4,646.6 1009.9,642.5 1009.4,642.5 1008.9,642.5 1008.4,642.5 1007.9,642.5 1007.4,642.5 1006.9,642.5 1006.4,642.5 1005.9,642.5 1005.4,642.5 1004.9,642.5 1004.4,642.5 1003.9,642.5 1003.4,642.5 1002.9,642.5 1002.4,642.5 1001.9,642.5 1001.4,642.5 1000.9,642.5 1000.4,642.5 999.9,642.5 999.4,642.5 998.9,642.5 998.4,642.5 997.9,642.5 997.4,642.5 996.9,642.5 996.4,642.5 995.9,646.8 995.4,648.6 994.9,648.9 994.4,649.0 993.9,648.7 993.4,647.6 992.9,642.5 992.4,642.5 991.9,642.5 991.4,642.5 990.9,642.5 990.4,642.6 989.9,642.6 989.4,642.7 988.9,642.7 988.4,642.7 987.9,642.8 987.4,642.8 986.9,642.9 986.4,642.9 985.9,643.0 985.4,643.0 984.9,643.1 984.4,643.1 983.9,643.0 983.4,642.7 982.9,642.5 982.4,642.5 981.9,642.5 981.4,642.5 980.9,642.5 980.4,642.5 979.9,642.5 979.4,642.5 978.9,642.5" fill="#000" stroke="#000" stroke-width="1.1" stroke-linejoin="round"/>
<path d="M979.0,200.2 H1610" stroke="#000" stroke-width="3.3" stroke-dasharray="15.4 16.4" fill="none"/>
<path d="M1613,200.2 H1662" stroke="#000" stroke-width="1.5" stroke-dasharray="7.6 11.1" fill="none"/>
<polyline points="979.4,270.7 980.4,317.0 982.0,289.4 983.6,330.8 985.3,274.8 987.0,336.5 988.5,286.1 990.1,305.6 991.1,269.1 992.7,304.8 994.4,258.6 995.3,226.1 996.5,203.4 997.9,161.2 998.9,112.5 999.9,87.3 1001.8,123.8 1003.1,95.4 1004.2,120.6 1005.7,93.0 1007.7,106.0 1009.9,112.5 1011.5,133.6 1012.5,164.4 1013.5,203.4 1014.1,225.3 1014.8,193.6 1015.5,161.2 1017.1,149.8 1018.4,161.2 1019.7,156.3 1021.0,167.7 1022.3,151.4 1023.9,183.9 1024.9,144.9 1026.2,114.9 1027.8,127.1 1029.4,140.1 1031.0,120.6 1032.7,101.1 1034.6,93.8 1036.2,115.7 1038.2,119.8 1040.1,122.2 1041.4,148.2 1042.4,185.5 1043.4,213.1 1045.0,226.1 1046.6,235.8 1047.9,252.1 1048.6,193.6 1049.2,144.9 1050.0,123.8 1052.0,127.1 1053.8,138.4 1054.7,164.4 1055.7,209.9 1056.5,258.6 1057.7,209.9 1058.3,193.6 1058.8,187.1 1059.4,206.6 1060.2,216.3 1060.9,196.9 1061.5,213.1 1062.5,226.1 1063.2,206.6 1063.8,243.9 1064.5,203.4 1065.0,177.4 1065.8,200.1 1066.6,183.9 1067.4,203.4 1068.0,183.9 1069.0,206.6 1069.7,187.1 1070.3,196.9 1071.1,177.4 1071.9,175.8 1072.6,190.4 1073.2,177.4 1074.7,170.9 1077.1,164.4 1079.1,170.9 1081.2,185.5 1083.3,209.9 1084.6,242.3 1086.1,291.0 1087.7,323.5 1089.0,335.8 1090.4,304.0 1091.7,266.7 1093.0,235.8 1094.7,258.6 1095.8,279.6 1096.6,242.3 1097.4,223.0 1097.9,193.6 1098.6,180.6 1099.2,203.4 1099.9,170.9 1100.5,144.9 1101.5,128.7 1102.5,153.0 1103.4,183.9 1104.1,203.4 1105.0,193.6 1106.0,213.1 1107.0,200.1 1108.0,209.9 1108.6,177.4 1109.6,151.4 1110.9,135.2 1111.9,157.9 1112.8,183.9 1113.7,209.9 1114.3,239.2 1115.0,213.1 1115.6,183.9 1116.4,203.4 1117.2,177.4 1118.0,193.6 1119.0,164.4 1120.1,144.9 1121.3,131.9 1122.6,120.6 1124.5,144.9 1126.2,187.1 1127.5,144.9 1129.1,126.3 1130.7,144.9 1132.3,172.5 1133.9,151.4 1135.2,170.9 1136.2,219.6 1137.2,274.1 1138.5,226.1 1139.5,180.6 1140.8,141.7 1142.4,118.1 1144.3,128.7 1146.1,127.1 1148.5,131.9 1149.8,144.9 1151.0,164.4 1152.1,193.6 1152.9,226.1 1153.4,253.7 1155.0,269.3 1156.7,234.2 1158.0,203.4 1159.3,170.9 1160.7,140.1 1162.2,174.1 1163.2,213.1 1164.1,242.3 1165.4,261.8 1166.7,279.6 1167.7,295.9 1168.7,274.8 1169.7,307.2 1170.6,273.2 1172.1,321.2 1173.2,271.5 1174.2,304.0 1175.2,263.6 1176.1,307.2 1177.1,266.7 1178.6,330.1 1179.5,274.8 1180.4,257.1 1181.3,309.0 1182.3,258.6 1183.3,307.2 1183.9,255.5 1184.6,223.0 1185.2,193.6 1186.9,136.8 1188.8,90.5 1190.8,112.5 1192.4,144.9 1194.0,177.4 1195.6,206.6 1198.1,224.6 1200.5,203.4 1203.7,193.6 1205.4,209.9 1206.3,242.3 1207.3,311.5 1208.1,258.6 1208.9,218.0 1210.2,161.2 1212.2,132.8 1214.3,153.0 1216.7,170.9 1218.3,209.9 1220.0,255.5 1221.6,278.0 1222.9,299.1 1224.0,321.2 1225.2,291.0 1226.1,310.5 1227.1,282.9 1228.1,279.8 1229.1,307.2 1230.0,282.9 1231.0,258.7 1231.8,304.0 1232.6,320.4 1233.4,291.0 1234.3,315.4 1234.9,299.1 1235.7,339.6 1236.5,291.0 1237.5,315.4 1238.5,287.9 1239.1,312.3 1239.8,247.3 1240.8,223.0 1241.9,177.4 1243.5,138.4 1245.1,177.4 1245.7,193.6 1246.5,218.0 1247.0,231.1 1247.8,213.1 1248.6,226.1 1249.4,206.6 1250.2,222.8 1251.0,196.9 1252.0,183.9 1253.0,175.8 1254.0,193.6 1254.9,209.9 1255.7,232.7 1256.4,218.0 1257.2,253.8 1258.0,226.1 1258.8,235.8 1259.8,209.9 1260.6,219.6 1261.4,196.9 1262.4,216.3 1263.5,208.2 1264.3,221.2 1265.2,203.4 1266.0,222.8 1266.8,232.6 1267.6,243.3 1268.4,222.8 1269.2,209.9 1270.2,193.6 1271.2,177.4 1272.1,161.2 1273.3,148.2 1274.2,156.3 1275.4,142.5 1276.4,154.7 1277.3,157.9 1278.1,177.4 1279.0,193.6 1279.9,209.9 1280.9,219.6 1281.9,209.9 1282.8,226.1 1283.8,234.2 1285.8,243.9 1287.1,258.6 1288.0,274.8 1288.7,296.1 1289.5,271.5 1290.3,291.0 1291.0,261.8 1291.6,256.3 1292.4,289.4 1293.1,271.5 1293.9,307.2 1294.9,287.8 1296.0,330.5 1297.0,295.9 1297.8,310.5 1298.6,278.0 1299.4,295.9 1300.4,266.7 1301.4,260.3 1302.2,291.0 1303.0,274.8 1303.8,307.2 1304.9,312.3 1305.6,282.9 1306.2,295.9 1306.9,258.6 1307.4,234.2 1307.8,193.6 1308.5,136.8 1309.5,101.1 1312.2,94.6 1313.9,128.7 1315.0,157.9 1316.3,182.3 1317.6,136.8 1318.6,104.3 1319.5,92.2 1320.5,120.6 1321.5,149.8 1323.6,128.7 1325.2,109.2 1326.8,101.1 1329.3,109.2 1331.7,131.9 1333.3,109.2 1335.0,133.6 1336.1,164.4 1337.4,192.0 1339.3,195.2 1340.6,177.4 1341.9,144.9 1344.7,123.0 1346.8,144.9 1348.1,180.6 1349.1,209.9 1349.9,242.3 1350.4,269.3 1351.0,234.2 1351.7,201.7 1353.0,161.2 1354.4,131.9 1355.6,149.8 1358.5,149.8 1360.9,135.2 1364.7,116.5 1366.6,144.9 1369.0,172.5 1372.3,185.5 1374.7,187.1 1377.2,200.1 1379.6,209.9 1382.2,224.5 1383.2,245.6 1383.8,266.7 1384.5,292.6 1385.1,271.5 1385.8,291.0 1386.4,265.0 1386.9,262.0 1387.5,291.0 1388.2,271.5 1389.0,296.1 1389.7,278.0 1390.3,307.2 1391.0,323.5 1392.3,346.2 1393.4,356.4 1394.5,339.7 1395.5,323.5 1396.2,304.0 1396.8,282.9 1397.5,295.9 1398.1,274.8 1399.1,266.7 1399.9,260.3 1400.5,274.8 1401.2,258.6 1402.0,245.7 1402.8,256.9 1403.6,242.3 1404.6,243.9 1405.6,213.1 1406.2,161.2 1407.5,112.5 1409.3,91.4 1411.2,109.2 1413.4,128.7 1414.5,154.7 1416.1,144.9 1418.5,153.0 1419.8,185.5 1420.8,222.8 1421.8,256.3 1422.8,226.1 1423.7,185.5 1424.7,144.9 1426.2,119.0 1427.8,153.0 1429.1,190.4 1430.2,219.6 1431.9,231.1 1433.2,209.9 1434.0,161.2 1434.8,136.8 1436.1,170.9 1437.1,209.9 1438.3,252.1 1439.7,274.8 1440.8,296.9 1441.9,258.6 1442.9,226.1 1444.2,177.4 1445.5,136.8 1447.0,115.7 1448.3,106.0 1450.2,123.8 1452.6,130.3 1453.9,157.9 1454.9,209.9 1455.9,257.9 1456.9,226.1 1457.8,180.6 1459.1,149.8 1463.2,128.7 1467.2,126.3 1468.9,144.9 1470.5,161.2 1472.9,180.6 1474.5,196.9 1475.7,218.0 1477.8,190.4 1479.9,211.5 1482.7,206.6 1485.1,177.4 1487.5,148.2 1490.0,170.9 1491.6,219.6 1492.4,161.2 1493.2,140.1 1495.7,153.0 1497.3,169.3 1498.9,193.6 1500.0,226.1 1501.0,250.4 1502.0,271.5 1503.0,291.0 1503.8,279.6 1504.6,304.0 1505.9,312.3 1506.7,291.0 1507.5,304.0 1508.5,278.0 1509.5,291.0 1510.3,259.5 1511.1,287.8 1511.9,274.8 1512.7,304.0 1513.5,291.0 1514.3,339.1 1515.3,307.2 1516.3,291.0 1517.1,310.5 1517.9,271.7 1518.9,307.2 1520.0,282.9 1521.3,311.5 1521.9,282.9 1522.6,266.0 1523.4,291.0 1524.2,274.8 1524.7,302.5 1525.2,242.3 1525.7,193.6 1526.2,153.0 1527.1,112.5 1528.6,92.2 1531.0,101.1 1532.7,112.5 1534.0,128.7 1534.8,149.8 1535.6,166.0 1536.9,151.4 1538.3,141.7 1540.8,128.7 1543.2,144.9 1544.8,141.7 1546.9,125.5 1548.9,144.9 1550.5,177.4 1552.1,201.7 1553.8,218.0 1557.0,233.4 1558.6,219.6 1560.6,209.9 1562.7,215.5 1565.9,213.1 1567.5,193.6 1569.2,164.4 1571.3,151.4 1572.9,170.9 1573.9,209.9 1574.9,259.0 1575.5,218.0 1576.2,193.6 1577.1,183.9 1578.4,190.4 1579.7,218.0 1581.3,234.2 1583.0,240.9 1583.6,209.9 1584.3,144.9 1585.9,122.2 1587.8,128.7 1589.8,153.0 1590.8,193.6 1591.9,238.4 1592.5,193.6 1593.5,137.6 1595.1,153.0 1596.3,193.6 1597.3,234.2 1598.4,263.6 1600.0,291.2 1601.2,247.3 1602.0,218.0 1603.3,177.4 1604.6,162.8 1606.5,177.4 1607.6,209.9 1608.6,242.3 1609.3,274.6" fill="none" stroke="#000" stroke-width="3.9" stroke-linejoin="round" stroke-linecap="round"/>
<text x="1626" y="150.6" font-family='"Liberation Sans", Arial, Helvetica, sans-serif' font-size="32.5" fill="#111" stroke="#111" stroke-width="0.45" textLength="95" lengthAdjust="spacingAndGlyphs">Higher</text>
<text x="1626" y="266" font-family='"Liberation Sans", Arial, Helvetica, sans-serif' font-size="32.5" fill="#111" stroke="#111" stroke-width="0.45" textLength="87" lengthAdjust="spacingAndGlyphs">Lower</text>
</svg>
</body></html>
